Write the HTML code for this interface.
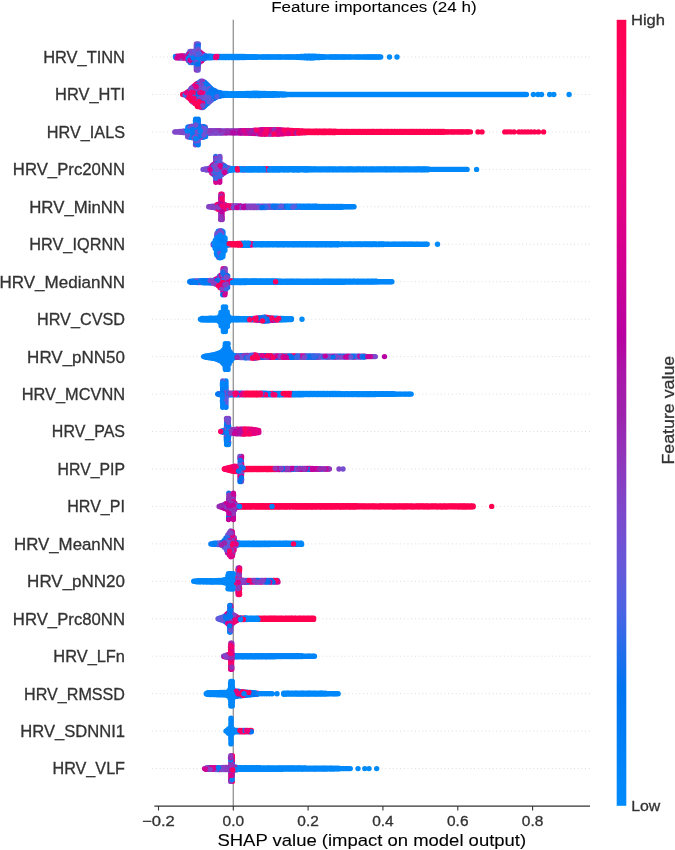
<!DOCTYPE html>
<html><head><meta charset="utf-8"><style>html,body{margin:0;padding:0;background:#fff;}svg{display:block;will-change:transform;}</style></head>
<body><svg width="675" height="850" viewBox="0 0 675 850">
<rect width="675" height="850" fill="#fff"/>
<line x1="152.3" y1="57.0" x2="591" y2="57.0" stroke="#d0d0d0" stroke-width="0.9" stroke-dasharray="0.8 2.9"/>
<line x1="152.3" y1="94.5" x2="591" y2="94.5" stroke="#d0d0d0" stroke-width="0.9" stroke-dasharray="0.8 2.9"/>
<line x1="152.3" y1="131.9" x2="591" y2="131.9" stroke="#d0d0d0" stroke-width="0.9" stroke-dasharray="0.8 2.9"/>
<line x1="152.3" y1="169.4" x2="591" y2="169.4" stroke="#d0d0d0" stroke-width="0.9" stroke-dasharray="0.8 2.9"/>
<line x1="152.3" y1="206.8" x2="591" y2="206.8" stroke="#d0d0d0" stroke-width="0.9" stroke-dasharray="0.8 2.9"/>
<line x1="152.3" y1="244.2" x2="591" y2="244.2" stroke="#d0d0d0" stroke-width="0.9" stroke-dasharray="0.8 2.9"/>
<line x1="152.3" y1="281.7" x2="591" y2="281.7" stroke="#d0d0d0" stroke-width="0.9" stroke-dasharray="0.8 2.9"/>
<line x1="152.3" y1="319.2" x2="591" y2="319.2" stroke="#d0d0d0" stroke-width="0.9" stroke-dasharray="0.8 2.9"/>
<line x1="152.3" y1="356.6" x2="591" y2="356.6" stroke="#d0d0d0" stroke-width="0.9" stroke-dasharray="0.8 2.9"/>
<line x1="152.3" y1="394.1" x2="591" y2="394.1" stroke="#d0d0d0" stroke-width="0.9" stroke-dasharray="0.8 2.9"/>
<line x1="152.3" y1="431.5" x2="591" y2="431.5" stroke="#d0d0d0" stroke-width="0.9" stroke-dasharray="0.8 2.9"/>
<line x1="152.3" y1="469.0" x2="591" y2="469.0" stroke="#d0d0d0" stroke-width="0.9" stroke-dasharray="0.8 2.9"/>
<line x1="152.3" y1="506.4" x2="591" y2="506.4" stroke="#d0d0d0" stroke-width="0.9" stroke-dasharray="0.8 2.9"/>
<line x1="152.3" y1="543.9" x2="591" y2="543.9" stroke="#d0d0d0" stroke-width="0.9" stroke-dasharray="0.8 2.9"/>
<line x1="152.3" y1="581.3" x2="591" y2="581.3" stroke="#d0d0d0" stroke-width="0.9" stroke-dasharray="0.8 2.9"/>
<line x1="152.3" y1="618.8" x2="591" y2="618.8" stroke="#d0d0d0" stroke-width="0.9" stroke-dasharray="0.8 2.9"/>
<line x1="152.3" y1="656.2" x2="591" y2="656.2" stroke="#d0d0d0" stroke-width="0.9" stroke-dasharray="0.8 2.9"/>
<line x1="152.3" y1="693.7" x2="591" y2="693.7" stroke="#d0d0d0" stroke-width="0.9" stroke-dasharray="0.8 2.9"/>
<line x1="152.3" y1="731.1" x2="591" y2="731.1" stroke="#d0d0d0" stroke-width="0.9" stroke-dasharray="0.8 2.9"/>
<line x1="152.3" y1="768.6" x2="591" y2="768.6" stroke="#d0d0d0" stroke-width="0.9" stroke-dasharray="0.8 2.9"/>
<line x1="233.3" y1="19.7" x2="233.3" y2="806" stroke="#999" stroke-width="1.4"/>
<g fill="none" stroke-width="5.4" stroke-linecap="round"><path d="M178.7 57.9h0M194.5 62.6h0M196.5 94.5h0M198.3 87.4h0M218.3 130.8h0M237.5 130.9h0M246.3 206.1h0M220.6 207.8h0M271.9 355.9h0M236.6 429.3h0M279.8 468.4h0M229.4 549.2h0M255.5 580.5h0M239.4 574.1h0M233.1 767.1h0" stroke="#883fc2"/><path d="M180.7 56.0h0M274.2 131.9h0M210.3 167.6h0M269.1 357.4h0M241.5 433.9h0" stroke="#d40090"/><path d="M182.3 58.0h0M214.8 130.8h0M222.7 132.9h0M256.8 133.6h0M264.5 129.6h0M220.9 205.8h0M230.8 777.4h0" stroke="#9430b6"/><path d="M183.8 58.0h0M212.0 168.4h0M215.8 168.4h0M219.4 283.6h0M289.3 469.5h0M312.1 468.5h0M274.3 580.5h0" stroke="#cd0095"/><path d="M186.9 55.9h0M198.3 66.1h0M283.0 469.5h0" stroke="#962db3"/><path d="M188.6 53.6h0M191.0 135.2h0M192.3 137.7h0M199.1 128.0h0M203.7 132.7h0M204.3 169.4h0M251.3 206.1h0M218.2 240.2h0M309.1 356.0h0M356.6 357.0h0M358.4 357.0h0M241.4 481.6h0M230.4 632.0h0" stroke="#764ed0"/><path d="M191.6 55.6h0M213.8 96.5h0M217.3 94.5h0" stroke="#6459da"/><path d="M193.1 56.0h0M201.0 54.7h0M220.1 133.0h0M246.5 207.5h0M262.4 206.1h0M355.2 357.0h0M374.1 356.6h0M219.1 394.5h0M240.0 468.0h0" stroke="#7350d2"/><path d="M194.6 60.5h0M196.4 43.9h0M195.5 144.7h0M220.1 163.6h0M249.8 206.1h0M267.0 207.4h0M226.3 436.5h0M208.7 769.4h0" stroke="#794cce"/><path d="M196.2 55.8h0M254.9 130.3h0M218.1 165.7h0M218.3 167.5h0M223.1 268.7h0M273.7 320.2h0M254.5 358.2h0M260.9 355.8h0M248.9 582.1h0M269.8 580.5h0M229.9 607.5h0M230.8 607.5h0" stroke="#d9008c"/><path d="M196.6 57.9h0M199.9 96.4h0M202.8 107.6h0M210.7 171.1h0M215.7 180.3h0M214.6 206.1h0M215.7 205.7h0M244.8 207.5h0M247.7 207.5h0M254.4 206.1h0M222.9 278.7h0M274.0 355.9h0M297.6 357.2h0" stroke="#8542c5"/><path d="M198.0 60.4h0M204.6 82.3h0M204.7 96.5h0M206.3 98.8h0M209.5 91.0h0M192.7 128.0h0M195.5 128.2h0M195.7 128.9h0M195.8 142.7h0M270.6 207.4h0M273.6 207.4h0M192.4 282.3h0M197.4 282.5h0M218.7 393.6h0M230.0 394.8h0M228.6 430.0h0M240.3 462.2h0M229.9 619.8h0" stroke="#007bf4"/><path d="M199.3 58.1h0M202.5 59.8h0" stroke="#5b5ddd"/><path d="M201.0 57.0h0M213.7 130.7h0M263.9 206.1h0M278.5 207.4h0M218.6 233.2h0M320.1 356.1h0M334.6 356.1h0M223.7 394.9h0M241.7 471.9h0M227.6 543.9h0M227.9 548.3h0M232.1 624.1h0" stroke="#6c54d6"/><path d="M207.9 56.3h0M209.1 56.3h0M211.0 57.7h0M212.3 56.4h0M204.2 92.7h0M221.3 239.4h0M193.8 281.0h0M259.3 320.4h0M261.1 320.6h0M225.9 403.1h0M228.5 432.5h0M228.7 442.5h0M210.9 543.9h0M214.9 544.4h0M246.4 731.8h0" stroke="#007ff7"/><path d="M217.1 57.5h0M199.9 100.8h0M201.0 98.6h0M250.5 245.0h0M251.7 243.8h0M237.6 429.2h0M252.1 431.5h0" stroke="#e9007c"/><path d="M218.8 56.5h0M218.5 57.5h0M220.2 56.5h0M223.5 57.5h0M225.1 56.5h0M241.2 57.5h0M244.7 57.5h0M247.4 57.4h0M252.5 56.6h0M255.5 56.6h0M255.7 57.4h0M264.7 57.0h0M267.2 57.0h0M270.9 57.0h0M273.4 57.0h0M274.7 57.0h0M277.2 57.0h0M280.9 57.0h0M285.9 57.0h0M293.4 57.0h0M294.7 57.0h0M299.0 56.6h0M300.7 56.5h0M303.6 56.4h0M304.9 57.7h0M308.3 57.9h0M309.8 56.1h0M310.3 57.9h0M311.4 56.1h0M313.1 57.8h0M316.1 56.4h0M317.8 57.6h0M319.6 57.5h0M321.1 57.4h0M324.4 57.0h0M330.7 57.0h0M334.4 57.0h0M339.4 57.0h0M340.7 57.0h0M345.7 57.0h0M350.7 57.0h0M351.9 57.0h0M353.2 57.0h0M354.4 57.0h0M355.7 57.0h0M359.4 57.0h0M366.9 57.0h0M369.4 57.0h0M373.2 57.0h0M224.9 93.5h0M225.4 95.4h0M227.1 95.4h0M231.8 93.7h0M234.7 95.2h0M242.8 93.6h0M244.7 95.3h0M251.0 93.4h0M250.7 95.5h0M252.4 93.4h0M257.4 93.3h0M257.2 95.6h0M259.1 95.5h0M268.6 93.6h0M273.4 95.2h0M276.2 93.8h0M280.9 94.0h0M284.3 94.9h0M296.4 94.5h0M300.1 94.5h0M301.4 94.5h0M302.6 94.5h0M312.6 94.5h0M316.4 94.5h0M317.6 94.5h0M322.6 94.5h0M327.6 94.5h0M328.9 94.5h0M330.1 94.5h0M337.6 94.5h0M350.1 94.5h0M358.9 94.5h0M360.1 94.5h0M361.4 94.5h0M365.1 94.5h0M367.6 94.5h0M370.1 94.5h0M371.4 94.5h0M373.9 94.5h0M376.4 94.5h0M380.1 94.5h0M383.9 94.5h0M398.9 94.5h0M402.6 94.5h0M407.6 94.5h0M416.4 94.5h0M417.6 94.5h0M427.6 94.5h0M430.1 94.5h0M432.6 94.5h0M436.4 94.5h0M438.9 94.5h0M442.6 94.5h0M446.4 94.5h0M448.9 94.5h0M450.1 94.5h0M467.6 94.5h0M476.4 94.5h0M478.9 94.5h0M485.1 94.5h0M488.9 94.5h0M493.9 94.5h0M496.4 94.5h0M497.6 94.5h0M507.6 94.5h0M515.1 94.5h0M526.4 94.5h0M229.7 168.3h0M232.9 169.9h0M234.5 168.8h0M234.1 169.9h0M236.2 169.9h0M239.3 168.8h0M240.9 168.8h0M248.6 169.9h0M255.0 168.8h0M257.1 168.8h0M258.4 168.8h0M259.7 169.9h0M264.5 168.8h0M268.1 169.9h0M273.0 169.9h0M274.4 168.8h0M278.9 168.8h0M280.5 169.9h0M282.1 168.8h0M282.4 169.9h0M290.7 168.8h0M292.0 168.8h0M296.9 168.8h0M298.2 169.9h0M306.3 169.9h0M311.4 168.9h0M320.6 169.8h0M322.7 168.9h0M323.9 168.9h0M324.1 169.8h0M327.5 168.9h0M330.6 168.9h0M330.1 169.8h0M341.5 168.9h0M343.1 169.8h0M348.0 168.9h0M349.3 169.8h0M354.4 169.8h0M360.6 168.9h0M362.3 168.9h0M365.9 168.9h0M365.5 169.8h0M366.9 168.9h0M370.5 169.8h0M372.1 168.9h0M373.5 169.8h0M375.5 169.8h0M376.5 169.8h0M378.7 169.8h0M379.9 168.9h0M379.7 169.8h0M386.1 168.9h0M391.0 169.7h0M395.9 169.7h0M405.5 169.0h0M407.3 169.7h0M410.4 169.0h0M411.9 169.0h0M415.5 169.7h0M421.8 169.0h0M421.8 169.7h0M426.2 169.0h0M430.9 169.4h0M434.6 169.4h0M435.9 169.4h0M443.4 169.4h0M449.6 169.4h0M450.9 169.4h0M452.1 169.4h0M460.9 169.4h0M213.3 243.6h0M218.4 246.5h0M223.0 231.9h0M242.1 245.2h0M243.7 245.2h0M253.4 244.7h0M255.2 243.8h0M258.4 244.7h0M260.2 244.7h0M262.8 244.7h0M276.1 243.8h0M276.2 244.7h0M278.9 243.8h0M283.8 243.8h0M283.8 244.7h0M286.8 243.8h0M290.6 243.8h0M292.1 243.8h0M292.2 244.7h0M295.0 243.8h0M296.9 244.7h0M299.9 243.8h0M305.0 243.8h0M304.7 244.7h0M307.8 243.8h0M319.0 244.7h0M320.5 244.7h0M325.2 243.8h0M328.9 244.7h0M332.0 243.8h0M333.4 244.7h0M334.9 244.7h0M337.0 243.8h0M336.8 244.7h0M339.6 243.9h0M341.8 243.9h0M346.5 244.6h0M349.6 243.9h0M351.4 244.6h0M352.6 244.6h0M357.3 244.6h0M359.3 243.9h0M360.5 244.6h0M362.1 244.6h0M365.6 244.6h0M367.1 243.9h0M366.9 244.6h0M373.5 243.9h0M380.0 243.9h0M381.5 244.6h0M383.2 243.9h0M397.2 244.2h0M398.5 244.2h0M407.2 244.2h0M408.5 244.2h0M411.0 244.2h0M413.5 244.2h0M414.7 244.2h0M416.0 244.2h0M232.9 280.9h0M234.0 282.5h0M237.5 282.5h0M244.0 282.5h0M245.3 280.9h0M245.5 282.5h0M248.8 282.4h0M250.3 282.4h0M253.5 281.0h0M257.8 281.0h0M258.5 282.4h0M262.7 282.4h0M264.3 281.0h0M264.5 282.4h0M265.8 282.4h0M269.4 281.0h0M270.7 282.4h0M279.2 281.1h0M281.8 281.1h0M283.4 281.1h0M285.7 282.3h0M288.6 281.1h0M290.4 282.3h0M291.6 281.1h0M293.5 282.3h0M296.6 281.1h0M299.5 281.1h0M302.9 282.3h0M311.2 281.1h0M312.4 281.2h0M315.6 282.2h0M317.5 281.2h0M326.7 281.2h0M329.8 281.2h0M330.2 282.2h0M331.5 282.2h0M333.0 281.2h0M333.5 282.2h0M334.9 282.2h0M341.3 282.2h0M345.9 281.3h0M349.3 282.1h0M350.7 281.3h0M352.8 281.3h0M365.2 282.1h0M368.8 282.1h0M371.8 281.3h0M378.2 281.7h0M380.7 281.7h0M389.4 281.7h0M201.7 319.9h0M206.9 319.9h0M211.2 318.3h0M213.1 320.0h0M214.3 320.0h0M217.9 320.2h0M221.3 323.8h0M222.3 313.7h0M222.5 316.2h0M222.7 317.9h0M223.8 315.8h0M224.0 318.3h0M226.1 318.3h0M225.7 322.0h0M225.8 324.2h0M226.0 326.5h0M227.0 315.8h0M227.7 320.0h0M230.7 318.5h0M237.0 319.8h0M242.1 318.6h0M241.9 319.7h0M288.4 318.7h0M291.3 319.5h0M223.4 315.1h0M223.5 317.1h0M225.7 319.2h0M223.3 321.2h0M225.5 321.2h0M223.4 323.3h0M292.4 393.4h0M292.6 394.7h0M295.8 393.4h0M298.9 393.4h0M299.1 394.7h0M303.5 393.5h0M310.0 393.5h0M311.5 393.5h0M313.3 393.5h0M318.0 394.6h0M320.0 393.5h0M321.2 394.6h0M329.6 393.5h0M331.2 393.5h0M334.2 393.5h0M345.0 394.5h0M347.2 393.6h0M348.6 394.5h0M354.7 393.6h0M364.3 394.5h0M367.9 393.6h0M382.3 393.7h0M383.7 393.7h0M390.5 394.4h0M391.7 393.7h0M391.7 394.4h0M395.0 394.1h0M401.2 394.1h0M402.5 394.1h0M403.7 394.1h0M406.2 394.1h0M407.5 394.1h0M222.5 397.1h0M240.7 544.5h0M245.2 544.5h0M247.2 543.2h0M248.6 543.2h0M256.9 544.5h0M257.9 544.5h0M260.1 544.5h0M271.1 543.3h0M272.9 543.3h0M280.8 543.3h0M280.9 544.4h0M282.5 543.3h0M282.5 544.4h0M290.0 543.3h0M291.6 543.3h0M293.7 544.4h0M296.4 543.3h0M196.2 580.9h0M196.5 581.7h0M201.3 580.7h0M212.0 580.6h0M213.9 580.6h0M215.6 580.6h0M218.5 580.5h0M220.2 580.5h0M220.1 582.1h0M223.3 580.1h0M226.3 583.1h0M228.3 577.9h0M228.2 580.1h0M229.8 582.4h0M229.7 584.8h0M233.2 575.6h0M233.2 577.8h0M233.0 582.5h0M232.7 584.7h0M233.3 586.8h0M233.3 588.9h0M234.9 580.0h0M246.6 619.5h0M247.9 619.4h0M252.8 618.1h0M252.9 619.4h0M254.8 619.4h0M257.8 618.1h0M206.2 693.7h0M207.3 692.9h0M209.4 694.5h0M213.9 692.7h0M221.8 692.5h0M222.2 694.8h0M233.0 689.2h0M233.2 693.7h0M234.5 696.4h0M288.1 693.2h0M288.5 694.1h0M289.8 694.1h0M298.4 694.1h0M299.9 693.2h0M301.1 694.1h0M309.4 693.2h0M310.8 694.1h0M314.1 693.3h0M315.3 694.0h0M323.8 694.0h0M232.1 683.4h0M230.7 689.6h0M230.6 691.6h0M232.5 691.6h0M232.2 699.8h0M228.5 733.2h0M233.8 732.2h0M235.6 731.7h0M236.5 731.7h0M231.0 720.3h0M230.9 730.1h0M231.1 732.1h0M230.9 736.0h0M242.7 769.3h0M252.0 769.3h0M253.7 767.8h0M255.8 767.8h0M256.9 767.8h0M264.9 769.2h0M269.9 767.9h0M271.4 767.9h0M271.6 769.2h0M272.9 769.2h0M276.4 769.2h0M279.2 769.2h0M282.7 767.9h0M284.2 768.0h0M285.7 769.1h0M289.1 769.1h0M292.1 769.1h0M293.6 768.0h0M298.5 768.0h0M305.0 768.0h0M308.2 769.0h0M310.2 769.0h0M311.2 769.0h0M313.2 769.0h0M314.7 768.1h0M315.9 769.0h0M318.0 768.1h0M319.4 768.1h0M322.9 768.1h0M327.3 768.1h0M330.9 768.2h0M335.7 768.9h0M336.8 768.9h0M342.8 768.6h0M347.8 768.6h0M350.3 768.6h0" stroke="#0088fa"/><path d="M196.5 56.0h0M198.1 58.0h0M227.5 616.3h0" stroke="#605bdc"/><path d="M198.3 56.0h0M207.8 85.3h0M212.3 97.4h0M205.3 127.2h0M222.9 130.9h0M241.5 462.2h0M224.1 618.8h0M225.6 615.5h0" stroke="#6f52d4"/><path d="M183.9 94.5h0M194.8 98.7h0M272.4 131.9h0M228.0 280.6h0M269.0 320.7h0M251.7 357.9h0M242.7 429.1h0M226.5 767.5h0" stroke="#dd0088"/><path d="M186.9 96.2h0M222.1 207.8h0M225.2 286.7h0M294.4 357.3h0M212.2 767.7h0M225.2 769.6h0M229.9 767.4h0" stroke="#8d39be"/><path d="M188.3 97.5h0M286.8 131.9h0M266.7 169.9h0M273.3 580.5h0M239.3 590.5h0M241.7 619.5h0" stroke="#fe005c"/><path d="M191.6 92.1h0M215.7 156.5h0M257.5 207.5h0M267.3 206.2h0M252.7 318.5h0" stroke="#306ae9"/><path d="M191.6 94.5h0M199.8 90.5h0M223.2 169.4h0M276.5 206.2h0M275.5 320.1h0M284.8 355.9h0M228.8 493.3h0" stroke="#186deb"/><path d="M195.0 88.1h0M181.4 131.4h0M183.3 131.3h0M189.3 134.8h0M219.8 247.2h0M224.4 286.0h0M340.8 356.1h0M238.1 578.2h0M238.3 586.4h0" stroke="#8047c9"/><path d="M194.8 94.5h0M224.6 281.7h0M229.7 280.8h0M264.3 355.8h0M275.5 357.3h0" stroke="#0071ee"/><path d="M196.7 104.6h0M229.0 470.2h0M232.0 469.0h0" stroke="#eb007a"/><path d="M197.7 83.2h0M202.6 100.8h0M218.6 169.4h0M270.3 320.4h0M283.0 355.9h0M289.6 468.4h0" stroke="#266cea"/><path d="M198.3 99.8h0M239.3 572.1h0" stroke="#e7007e"/><path d="M197.9 105.7h0M201.4 107.6h0M202.6 83.7h0M202.8 98.7h0M219.8 166.4h0M239.8 467.1h0M234.3 537.6h0M218.9 769.5h0" stroke="#8244c7"/><path d="M199.8 82.1h0M216.6 167.3h0M223.1 167.5h0M224.3 277.2h0M224.9 280.7h0M225.9 539.9h0" stroke="#4066e6"/><path d="M201.0 90.3h0M243.1 433.9h0M255.3 431.5h0" stroke="#e50080"/><path d="M202.8 90.0h0M284.5 207.4h0M225.0 290.7h0M257.6 355.4h0M329.7 357.1h0M355.2 356.2h0M256.7 582.1h0" stroke="#006fed"/><path d="M204.3 104.3h0M205.7 105.1h0M207.9 89.3h0M194.3 129.7h0M297.4 207.3h0M225.9 385.0h0M230.0 429.9h0M226.3 428.5h0M230.5 617.7h0M240.9 691.6h0M255.5 694.3h0" stroke="#007ef6"/><path d="M205.7 96.7h0M207.5 87.4h0M212.4 91.5h0M189.5 126.7h0M268.7 207.4h0M224.7 244.2h0M321.9 356.1h0M324.6 357.1h0M223.6 393.2h0M225.7 619.7h0M228.8 616.7h0" stroke="#6857d8"/><path d="M206.1 102.8h0M212.3 93.2h0M198.8 137.7h0M243.2 394.8h0" stroke="#0076f1"/><path d="M209.4 95.6h0M187.9 127.1h0M198.3 123.0h0M198.1 125.0h0M195.4 132.9h0M281.5 207.4h0M203.6 282.7h0M226.8 393.2h0M266.9 393.4h0M244.1 691.9h0" stroke="#0079f3"/><path d="M210.7 88.2h0M272.2 206.2h0M235.3 357.4h0" stroke="#0074f0"/><path d="M211.1 92.5h0M215.3 93.5h0M200.5 133.2h0M203.6 126.8h0M280.3 206.2h0M279.8 207.4h0M233.6 393.3h0M225.1 430.3h0M257.1 694.2h0" stroke="#0077f2"/><path d="M221.8 93.3h0M223.8 432.3h0M228.7 426.5h0M219.5 618.2h0M230.4 611.6h0M229.8 628.0h0M209.2 767.7h0M228.1 769.6h0" stroke="#007cf5"/><path d="M187.7 136.7h0M197.6 129.7h0M219.8 168.4h0M235.0 207.6h0M241.3 206.1h0M243.4 206.1h0M264.1 207.5h0M216.7 235.8h0M223.3 248.2h0M267.4 357.4h0M275.6 355.9h0M296.0 356.0h0M226.5 418.5h0M241.6 469.9h0M240.0 479.6h0M239.3 576.2h0" stroke="#7d49cc"/><path d="M192.5 126.1h0M286.6 207.4h0M287.8 206.2h0M215.2 248.4h0M216.6 251.0h0M218.3 237.7h0M218.0 248.4h0M220.0 245.2h0M198.7 282.5h0M247.8 319.7h0M263.5 394.8h0M226.6 444.5h0M230.7 609.5h0M244.1 695.4h0M245.8 695.2h0M253.8 692.8h0" stroke="#0081f7"/><path d="M216.9 130.8h0M225.2 278.7h0M234.8 505.2h0M229.3 654.7h0M233.2 657.5h0M228.3 767.5h0M232.2 767.6h0M230.8 771.5h0" stroke="#8f36bb"/><path d="M224.9 132.9h0M316.8 469.3h0M323.2 469.0h0" stroke="#9829b1"/><path d="M226.5 131.0h0M218.3 163.6h0M220.9 200.0h0M216.7 282.9h0M302.3 469.4h0M233.6 507.4h0M215.5 767.6h0M232.2 777.4h0" stroke="#8a3cc0"/><path d="M226.1 132.8h0M229.5 132.8h0" stroke="#aa17a7"/><path d="M227.5 132.8h0M239.6 433.8h0" stroke="#a31daa"/><path d="M248.4 133.1h0M238.2 207.6h0M220.8 211.7h0" stroke="#b604a2"/><path d="M252.1 133.2h0M272.6 134.1h0M224.8 168.4h0M226.1 169.4h0M226.5 286.5h0M231.0 282.5h0M239.9 429.2h0M238.0 592.6h0" stroke="#d6008e"/><path d="M258.3 130.1h0M230.3 206.0h0M230.1 207.6h0M239.7 393.3h0" stroke="#f80067"/><path d="M266.2 131.9h0M285.2 130.2h0M301.4 131.0h0M249.4 318.6h0M262.2 319.2h0M272.0 393.4h0M250.7 431.5h0M230.6 655.2h0" stroke="#fd005f"/><path d="M268.1 134.1h0M269.1 131.9h0M285.5 131.9h0M219.7 169.4h0M219.8 171.3h0M221.0 286.5h0M222.7 284.0h0M252.6 319.8h0M240.9 431.5h0M257.3 432.8h0M241.6 466.0h0M232.5 539.9h0M238.3 576.2h0M238.2 594.6h0M230.6 669.3h0" stroke="#db008a"/><path d="M270.7 131.9h0M272.5 129.7h0M278.7 129.8h0M222.7 207.8h0M225.3 206.8h0" stroke="#f6006c"/><path d="M277.5 129.8h0M222.1 209.7h0" stroke="#f4006e"/><path d="M277.7 134.0h0M228.7 206.0h0M239.5 394.8h0M235.3 615.9h0" stroke="#f7006a"/><path d="M280.3 133.9h0M213.5 280.4h0M224.6 279.1h0M254.9 355.0h0M231.3 505.4h0M232.4 761.7h0" stroke="#d10091"/><path d="M283.6 133.7h0M286.8 355.9h0M244.1 434.0h0M240.2 469.0h0M243.2 470.0h0M229.5 534.6h0M239.5 582.3h0M230.7 667.3h0M231.7 767.3h0M232.3 781.4h0" stroke="#fc0061"/><path d="M287.3 130.3h0M258.7 430.5h0M239.6 588.5h0M234.0 620.0h0" stroke="#df0086"/><path d="M292.0 130.5h0M225.1 272.7h0" stroke="#ff0058"/><path d="M294.9 130.7h0M296.7 130.8h0M268.7 317.6h0M240.0 731.7h0" stroke="#ff0056"/><path d="M304.7 131.1h0M245.8 433.9h0M247.5 433.9h0M234.8 466.3h0" stroke="#fb0063"/><path d="M307.9 131.3h0M312.5 132.5h0M320.5 132.5h0M327.1 131.3h0M326.7 132.5h0M328.7 131.3h0M330.3 132.5h0M336.5 132.4h0M338.0 132.4h0M346.2 131.4h0M349.3 132.4h0M351.3 131.4h0M352.8 131.4h0M352.5 132.4h0M359.0 132.4h0M362.2 132.4h0M371.5 132.4h0M373.3 132.4h0M381.5 132.4h0M383.0 132.4h0M384.6 132.4h0M386.3 132.4h0M389.6 132.4h0M392.3 131.5h0M395.5 131.5h0M397.1 132.3h0M406.9 132.3h0M411.9 131.5h0M413.6 131.5h0M416.7 131.5h0M418.2 131.5h0M420.0 131.5h0M421.4 132.3h0M424.4 131.5h0M429.7 131.5h0M430.7 132.3h0M432.7 131.5h0M434.4 132.3h0M435.7 132.3h0M437.6 131.5h0M438.9 131.5h0M443.8 131.5h0M445.4 131.9h0M447.9 131.9h0M454.2 131.9h0M461.7 131.9h0M466.7 131.9h0M229.3 244.8h0M231.3 244.8h0M232.7 244.8h0M234.0 244.9h0M237.8 243.5h0M240.8 243.4h0M248.0 394.8h0M249.3 393.3h0M251.0 393.3h0M257.3 393.3h0M257.0 394.8h0M258.9 393.3h0M244.5 468.4h0M246.0 469.6h0M248.0 468.4h0M248.3 469.6h0M249.4 468.4h0M250.9 468.4h0M254.3 468.4h0M259.1 468.4h0M260.8 469.6h0M263.7 469.6h0M265.5 468.4h0M270.2 469.6h0M239.9 505.8h0M247.5 507.0h0M252.1 507.0h0M254.1 507.0h0M255.2 505.8h0M255.6 507.0h0M256.9 505.8h0M256.9 507.0h0M260.6 505.8h0M260.4 507.0h0M271.6 505.8h0M274.6 505.8h0M274.6 507.0h0M279.3 507.0h0M286.1 505.8h0M286.1 507.0h0M287.4 505.8h0M292.4 505.8h0M296.9 505.8h0M297.1 507.0h0M302.0 507.0h0M324.5 507.0h0M329.3 507.0h0M330.5 505.8h0M332.2 507.0h0M337.2 505.8h0M337.2 507.0h0M339.1 507.0h0M342.2 505.8h0M343.3 507.0h0M349.8 507.0h0M353.5 507.0h0M354.8 505.8h0M362.7 505.9h0M375.7 505.9h0M375.5 506.9h0M377.0 505.9h0M377.1 506.9h0M379.1 505.9h0M385.3 506.9h0M396.2 505.9h0M399.6 505.9h0M404.3 506.9h0M409.0 505.9h0M422.1 505.9h0M423.8 506.9h0M426.9 505.9h0M434.7 505.9h0M439.9 506.9h0M442.7 506.9h0M446.0 505.9h0M446.1 506.9h0M447.6 505.9h0M452.6 506.9h0M453.8 505.9h0M454.1 506.9h0M463.8 505.9h0M466.9 505.9h0M470.0 506.9h0M471.7 505.9h0M473.1 505.9h0M264.4 618.1h0M269.3 618.1h0M272.1 618.1h0M275.0 618.1h0M278.7 618.1h0M279.9 619.4h0M281.8 619.4h0M288.5 619.4h0M292.7 618.1h0M293.0 619.4h0M294.6 618.1h0M297.8 619.4h0M301.0 619.4h0M307.4 619.4h0M312.2 619.4h0M313.7 618.1h0M313.6 619.4h0" stroke="#ff0051"/><path d="M216.8 175.2h0M219.9 158.4h0M278.4 355.9h0M231.8 651.2h0M229.6 769.7h0M232.3 757.7h0M232.2 769.5h0" stroke="#cf0093"/><path d="M220.8 205.6h0" stroke="#f30070"/><path d="M220.8 207.8h0M225.5 205.0h0M308.9 468.5h0" stroke="#bc009f"/><path d="M227.1 208.0h0M353.6 357.0h0M290.9 469.5h0M233.6 495.3h0" stroke="#c2009c"/><path d="M229.0 207.6h0" stroke="#f00074"/><path d="M265.4 206.1h0M289.8 207.4h0M255.8 358.0h0M357.2 356.2h0M321.7 469.3h0M276.1 582.1h0" stroke="#3968e7"/><path d="M274.9 206.2h0M267.3 320.9h0M240.2 355.7h0M269.0 355.8h0M344.3 357.0h0" stroke="#0073ef"/><path d="M285.0 206.2h0M291.3 206.2h0M228.7 612.5h0" stroke="#5261e1"/><path d="M286.6 206.2h0M221.3 257.6h0M222.8 252.4h0M197.4 280.9h0M206.9 280.6h0M225.9 383.0h0M226.1 391.0h0M226.2 397.1h0" stroke="#0082f8"/><path d="M289.7 206.2h0M301.0 207.3h0M304.0 207.3h0M305.8 206.3h0M307.1 206.3h0M307.4 207.3h0M308.5 207.3h0M310.1 206.3h0M315.5 206.3h0M317.0 207.3h0M323.2 206.4h0M326.1 207.2h0M329.4 207.2h0M342.1 207.2h0M347.8 206.8h0M350.3 206.8h0M219.7 240.9h0M223.2 244.2h0M203.7 356.6h0M214.8 358.6h0M219.2 360.3h0M222.5 354.8h0M223.8 361.6h0M225.4 355.3h0M227.0 359.9h0M229.0 351.5h0M228.9 355.3h0M228.9 357.5h0M228.8 362.0h0M229.1 363.9h0M230.8 358.8h0M225.3 347.7h0M225.5 355.6h0M227.7 355.6h0M225.5 357.6h0M225.3 359.6h0M225.1 361.5h0M225.2 363.5h0M227.8 363.5h0M225.2 367.4h0M279.6 394.7h0M234.5 655.6h0M234.2 656.8h0M235.9 655.6h0M236.2 656.8h0M239.2 656.8h0M242.2 655.6h0M248.5 656.7h0M257.1 655.7h0M259.8 656.7h0M261.8 655.7h0M268.3 655.7h0M267.9 656.7h0M271.4 656.7h0M272.7 655.7h0M272.9 656.7h0M287.1 655.8h0M287.2 656.6h0M295.0 655.8h0M296.9 656.6h0M308.3 656.2h0M314.5 656.2h0" stroke="#0084f9"/><path d="M296.2 206.3h0" stroke="#575fdf"/><path d="M220.9 194.1h0M230.7 651.2h0" stroke="#ee0076"/><path d="M220.9 201.9h0" stroke="#bf009d"/><path d="M218.4 235.7h0M219.9 239.0h0M223.1 239.9h0" stroke="#0085f9"/><path d="M223.4 237.9h0" stroke="#0086fa"/><path d="M220.0 287.5h0M239.6 594.6h0" stroke="#ff005a"/><path d="M261.2 317.7h0M255.7 429.9h0M229.4 536.9h0M238.1 590.5h0" stroke="#e30082"/><path d="M299.1 357.2h0" stroke="#4664e4"/><path d="M300.7 356.0h0M307.1 469.4h0M328.2 469.0h0" stroke="#c70098"/><path d="M317.2 357.2h0M363.4 356.2h0M229.7 505.2h0M233.4 497.3h0" stroke="#ca0097"/><path d="M232.9 429.6h0M234.7 429.5h0M294.3 468.5h0M305.7 469.4h0M230.5 647.1h0" stroke="#9233b9"/><path d="M236.3 433.7h0M302.5 468.5h0M231.4 507.6h0M233.6 509.4h0" stroke="#c5009a"/><path d="M237.7 433.8h0" stroke="#a71aa9"/><path d="M230.8 539.7h0" stroke="#fa0065"/><path d="M252.3 580.5h0M238.0 570.0h0M243.5 731.7h0" stroke="#ff0053"/><path d="M239.3 580.3h0" stroke="#e10084"/><path d="M231.9 653.2h0" stroke="#f10072"/><path d="M183.3 56.0h0M239.0 130.9h0M286.1 469.5h0M228.8 515.5h0M232.3 773.5h0" stroke="#962db3"/><path d="M185.1 55.9h0M282.0 130.0h0M249.8 357.8h0M278.0 468.4h0M294.3 469.4h0M303.8 469.4h0M236.1 507.7h0M228.9 495.3h0M230.7 657.2h0M230.7 665.3h0" stroke="#9233b9"/><path d="M186.6 58.1h0M199.4 102.5h0M221.7 132.9h0M232.7 131.0h0M223.4 173.5h0M215.7 158.4h0M223.7 204.3h0M218.5 277.8h0M223.0 292.7h0M233.2 499.3h0M250.4 580.5h0M266.3 580.5h0M230.9 767.6h0" stroke="#8a3cc0"/><path d="M188.2 60.4h0M197.6 126.1h0M197.6 134.0h0M202.0 130.9h0M202.1 133.0h0M198.2 134.9h0M203.1 169.4h0M207.5 168.8h0M207.0 169.9h0M365.2 356.2h0M226.5 426.5h0M241.6 473.8h0" stroke="#764ed0"/><path d="M189.9 51.4h0M198.4 43.9h0M198.0 62.0h0M212.1 95.4h0M194.3 135.6h0M240.1 466.0h0" stroke="#6857d8"/><path d="M190.2 62.6h0M206.2 85.8h0M190.9 133.1h0M199.2 135.9h0M205.5 134.6h0M278.1 206.2h0M241.3 460.2h0M252.1 694.6h0M222.0 767.6h0" stroke="#0079f3"/><path d="M191.3 51.4h0M191.5 62.6h0M205.8 92.1h0M217.0 92.1h0M194.2 131.9h0M213.2 244.9h0M305.8 356.0h0M345.5 356.2h0M369.1 356.6h0M226.7 394.9h0M240.1 473.8h0M240.0 477.7h0M241.7 479.6h0M227.7 539.2h0M227.5 618.8h0M232.0 621.7h0" stroke="#6f52d4"/><path d="M191.4 58.2h0M204.7 102.3h0M214.0 98.4h0M220.7 394.7h0M263.6 393.3h0M230.6 613.6h0M238.0 691.2h0M250.8 692.5h0" stroke="#007ef6"/><path d="M191.6 60.3h0M196.5 51.4h0M245.1 357.7h0M247.8 355.4h0M241.2 470.4h0M224.3 620.9h0" stroke="#0074f0"/><path d="M193.0 53.7h0M192.9 60.6h0M196.1 92.2h0M206.8 130.6h0M213.2 133.1h0M221.3 168.5h0M238.3 206.0h0M259.1 206.1h0M260.7 206.1h0M221.6 247.6h0M348.9 357.0h0M364.9 357.0h0M238.1 469.0h0M232.5 533.7h0M223.6 656.2h0" stroke="#794cce"/><path d="M193.2 62.6h0M199.9 55.8h0M189.7 131.1h0M196.1 126.1h0M202.4 126.6h0M198.2 130.9h0M195.5 134.9h0M198.1 142.7h0M266.9 394.7h0M230.7 621.8h0M247.6 695.1h0" stroke="#0077f2"/><path d="M194.5 55.8h0M202.6 56.2h0M210.8 56.3h0M212.5 57.6h0M214.1 56.4h0M197.4 136.0h0M202.5 137.2h0M198.3 121.1h0M216.9 239.8h0M218.0 251.0h0M223.0 236.3h0M236.8 394.8h0M222.6 389.0h0M226.4 432.5h0M216.3 544.4h0M229.2 620.7h0M229.8 609.5h0M247.2 692.2h0M230.8 769.5h0" stroke="#007ff7"/><path d="M196.1 53.7h0M196.2 49.9h0M207.4 95.2h0M232.3 615.7h0" stroke="#605bdc"/><path d="M197.8 55.7h0M200.9 96.8h0M198.2 132.9h0M255.8 206.1h0M195.8 281.0h0M200.4 282.6h0M221.0 277.4h0M337.5 357.1h0M350.2 356.2h0M238.3 568.0h0M223.4 767.5h0" stroke="#7d49cc"/><path d="M199.6 51.6h0M192.9 86.9h0M197.8 103.9h0M199.5 98.6h0M213.4 164.4h0M215.8 162.4h0M209.9 206.8h0M211.0 207.2h0M212.7 207.3h0M253.1 207.5h0M219.8 277.7h0M223.0 270.7h0M289.7 357.3h0M251.9 582.1h0M265.1 582.1h0M239.4 578.2h0M207.7 767.7h0M207.1 769.4h0M213.8 769.4h0" stroke="#8542c5"/><path d="M199.8 60.0h0M192.6 135.6h0M221.5 130.9h0M215.6 160.4h0M216.4 242.3h0M300.9 357.2h0M347.2 356.2h0M358.5 356.2h0M225.3 394.9h0M230.7 615.7h0" stroke="#7350d2"/><path d="M199.3 62.4h0M223.0 276.7h0M278.8 357.3h0M233.4 515.5h0M265.2 580.5h0M230.7 605.5h0M229.7 613.6h0M204.6 768.6h0M210.7 767.7h0" stroke="#cd0095"/><path d="M201.5 61.1h0M240.4 133.0h0M263.3 129.7h0M271.2 134.1h0M282.3 131.9h0M215.6 174.3h0M258.8 432.5h0M240.0 458.3h0M229.6 542.6h0M234.0 539.8h0M233.5 622.4h0M231.8 655.2h0M234.8 770.1h0" stroke="#db008a"/><path d="M222.2 56.5h0M225.1 57.5h0M226.8 57.5h0M228.4 56.5h0M230.1 56.5h0M231.8 57.5h0M234.7 56.5h0M236.5 56.5h0M239.5 57.5h0M242.7 56.5h0M244.5 56.5h0M254.1 57.4h0M258.4 57.0h0M259.7 57.0h0M260.9 57.0h0M275.9 57.0h0M278.4 57.0h0M282.2 57.0h0M283.4 57.0h0M284.7 57.0h0M288.4 57.0h0M300.2 57.5h0M322.7 56.6h0M333.2 57.0h0M338.2 57.0h0M341.9 57.0h0M356.9 57.0h0M358.2 57.0h0M360.7 57.0h0M361.9 57.0h0M363.2 57.0h0M368.2 57.0h0M375.7 57.0h0M379.4 57.0h0M223.8 93.4h0M223.5 95.5h0M233.4 95.2h0M238.1 93.7h0M239.6 93.7h0M241.1 95.3h0M244.1 93.6h0M245.8 93.5h0M245.7 95.4h0M247.5 95.4h0M249.1 95.5h0M252.3 95.5h0M255.3 95.6h0M259.1 93.4h0M260.4 93.4h0M262.2 95.4h0M269.9 95.2h0M276.4 95.1h0M279.5 95.0h0M281.3 94.9h0M290.1 94.5h0M291.4 94.5h0M292.6 94.5h0M293.9 94.5h0M303.9 94.5h0M310.1 94.5h0M320.1 94.5h0M323.9 94.5h0M331.4 94.5h0M332.6 94.5h0M338.9 94.5h0M342.6 94.5h0M343.9 94.5h0M353.9 94.5h0M356.4 94.5h0M362.6 94.5h0M368.9 94.5h0M375.1 94.5h0M377.6 94.5h0M391.4 94.5h0M392.6 94.5h0M401.4 94.5h0M403.9 94.5h0M405.1 94.5h0M408.9 94.5h0M411.4 94.5h0M412.6 94.5h0M413.9 94.5h0M415.1 94.5h0M423.9 94.5h0M425.1 94.5h0M440.1 94.5h0M441.4 94.5h0M443.9 94.5h0M445.1 94.5h0M452.6 94.5h0M453.9 94.5h0M455.1 94.5h0M457.6 94.5h0M461.4 94.5h0M468.9 94.5h0M470.1 94.5h0M471.4 94.5h0M480.1 94.5h0M487.6 94.5h0M492.6 94.5h0M503.9 94.5h0M508.9 94.5h0M510.1 94.5h0M513.9 94.5h0M518.9 94.5h0M521.4 94.5h0M525.1 94.5h0M232.8 168.8h0M239.2 169.9h0M241.1 169.9h0M247.2 169.9h0M250.4 168.8h0M250.5 169.9h0M251.7 168.8h0M256.9 169.9h0M264.8 169.9h0M269.4 168.8h0M271.3 169.9h0M276.1 169.9h0M279.0 169.9h0M285.5 168.8h0M287.3 168.8h0M288.5 169.9h0M290.7 169.9h0M292.3 169.9h0M294.9 169.9h0M299.9 169.9h0M301.5 169.9h0M303.2 168.8h0M303.1 169.9h0M307.9 168.8h0M313.1 168.9h0M312.6 169.8h0M314.1 169.8h0M316.3 169.8h0M317.5 168.9h0M317.6 169.8h0M319.0 168.9h0M325.4 168.9h0M332.3 168.9h0M333.8 168.9h0M333.4 169.8h0M335.4 169.8h0M338.5 169.8h0M340.0 168.9h0M339.8 169.8h0M341.8 169.8h0M343.0 168.9h0M348.2 169.8h0M351.4 169.8h0M353.1 169.8h0M357.7 168.9h0M369.1 169.8h0M377.1 168.9h0M378.1 168.9h0M383.1 169.8h0M385.0 169.8h0M387.7 169.8h0M389.7 169.8h0M391.1 169.0h0M394.1 169.0h0M399.1 169.7h0M402.1 169.7h0M403.9 169.7h0M406.9 169.0h0M408.8 169.7h0M413.6 169.7h0M416.9 169.0h0M423.1 169.0h0M428.2 169.0h0M442.1 169.4h0M445.9 169.4h0M448.4 169.4h0M454.6 169.4h0M297.3 206.3h0M214.9 244.2h0M216.4 253.1h0M218.2 231.3h0M242.0 243.3h0M244.2 243.3h0M248.7 245.4h0M253.2 243.8h0M256.4 244.7h0M261.8 243.8h0M267.6 244.7h0M269.7 244.7h0M271.0 243.8h0M270.8 244.7h0M282.4 243.8h0M288.7 243.8h0M293.7 244.7h0M302.9 243.8h0M306.4 243.8h0M309.2 243.8h0M311.0 244.7h0M314.6 244.7h0M316.2 243.8h0M316.2 244.7h0M318.9 243.8h0M322.2 243.8h0M322.0 244.7h0M323.8 244.7h0M326.9 243.8h0M330.6 243.8h0M331.7 244.7h0M333.2 243.8h0M338.1 243.8h0M339.6 244.6h0M341.8 244.6h0M342.8 243.9h0M349.7 244.6h0M355.9 243.9h0M355.9 244.6h0M358.9 244.6h0M364.2 243.9h0M368.6 243.9h0M371.8 244.6h0M373.3 244.6h0M376.6 243.9h0M378.6 243.9h0M378.3 244.6h0M379.6 244.6h0M393.5 244.2h0M396.0 244.2h0M402.2 244.2h0M409.7 244.2h0M412.2 244.2h0M417.2 244.2h0M235.5 282.5h0M237.5 280.9h0M239.2 282.5h0M240.9 282.5h0M242.4 280.9h0M246.7 281.0h0M251.9 281.0h0M254.6 282.4h0M256.5 281.0h0M256.9 282.4h0M260.1 282.4h0M261.1 281.0h0M262.7 281.0h0M267.9 282.4h0M269.7 282.4h0M272.5 281.0h0M278.9 282.3h0M287.0 281.1h0M286.7 282.3h0M288.3 282.3h0M293.0 281.1h0M297.9 281.1h0M299.6 282.3h0M301.3 281.1h0M302.9 281.1h0M304.3 281.1h0M306.4 282.3h0M307.5 282.3h0M315.7 281.2h0M324.1 282.2h0M325.2 281.2h0M326.9 282.2h0M328.3 281.2h0M328.8 282.2h0M336.7 281.2h0M341.2 281.2h0M347.7 281.3h0M354.0 281.3h0M358.8 281.3h0M358.7 282.1h0M360.5 281.3h0M360.3 282.1h0M368.4 281.3h0M370.2 281.3h0M370.3 282.1h0M373.3 281.3h0M379.4 281.7h0M383.2 281.7h0M385.7 281.7h0M390.7 281.7h0M204.8 318.4h0M206.7 318.4h0M208.0 319.9h0M209.9 318.3h0M217.8 318.1h0M221.0 312.5h0M221.1 325.8h0M224.4 311.9h0M223.9 320.3h0M223.9 326.5h0M225.7 316.1h0M226.1 320.2h0M227.5 322.6h0M236.8 318.5h0M240.0 319.7h0M244.6 318.6h0M247.9 318.6h0M270.2 317.9h0M280.4 318.4h0M281.8 319.8h0M283.0 318.5h0M286.2 318.6h0M223.6 308.9h0M223.5 311.0h0M225.5 315.1h0M223.3 327.4h0M225.5 329.4h0M223.4 331.5h0M297.7 393.4h0M300.5 393.4h0M303.7 394.6h0M305.1 394.6h0M306.8 393.5h0M312.1 394.6h0M315.1 394.6h0M316.7 393.5h0M318.1 393.5h0M324.3 394.6h0M326.4 393.5h0M326.0 394.6h0M329.6 394.6h0M330.8 394.6h0M332.9 393.5h0M334.0 394.6h0M335.4 393.5h0M338.8 394.6h0M340.7 393.6h0M341.8 394.5h0M352.0 394.5h0M353.6 393.6h0M354.9 394.5h0M356.3 393.6h0M361.2 393.6h0M361.6 394.5h0M363.2 393.6h0M370.6 393.6h0M372.6 394.5h0M374.0 394.5h0M378.7 393.7h0M385.1 394.4h0M387.0 393.7h0M386.9 394.4h0M396.2 394.1h0M400.0 394.1h0M405.0 394.1h0M408.7 394.1h0M411.2 394.1h0M237.7 545.1h0M250.1 544.5h0M253.5 543.2h0M258.2 543.2h0M259.6 543.2h0M264.7 544.5h0M268.1 543.2h0M274.0 544.4h0M275.6 544.4h0M277.5 543.3h0M277.1 544.4h0M284.0 543.3h0M283.7 544.4h0M286.7 543.3h0M301.3 543.3h0M301.6 544.4h0M198.1 581.8h0M202.4 580.7h0M207.1 580.7h0M209.1 581.9h0M212.4 582.0h0M217.0 580.6h0M222.1 580.5h0M222.1 582.1h0M224.7 579.8h0M226.4 579.5h0M226.5 581.3h0M230.0 573.7h0M230.1 578.0h0M231.2 573.7h0M231.2 577.8h0M231.4 584.7h0M231.3 588.9h0M248.4 618.1h0M249.8 618.1h0M249.6 619.4h0M254.6 618.1h0M256.4 619.4h0M207.7 694.4h0M212.3 694.6h0M218.5 692.6h0M218.9 694.7h0M223.6 694.8h0M226.5 694.9h0M228.5 691.5h0M227.9 695.8h0M229.9 697.9h0M233.2 691.6h0M233.1 698.1h0M234.5 690.9h0M234.6 692.5h0M285.5 693.2h0M286.7 694.1h0M289.7 693.2h0M293.3 693.2h0M295.2 693.2h0M303.0 693.2h0M315.6 693.3h0M317.2 693.3h0M317.1 694.0h0M320.8 693.3h0M321.8 694.0h0M323.6 693.3h0M325.5 693.3h0M326.9 693.7h0M333.1 693.7h0M336.9 693.7h0M338.1 693.7h0M232.3 681.4h0M230.6 685.5h0M232.3 685.5h0M230.6 699.8h0M227.1 730.4h0M228.6 729.0h0M232.2 733.4h0M233.6 730.0h0M238.2 730.5h0M231.0 724.2h0M230.9 734.1h0M230.9 738.0h0M236.0 767.3h0M239.2 769.3h0M241.1 769.3h0M242.4 767.8h0M244.4 767.8h0M245.6 767.8h0M245.9 769.3h0M247.3 769.3h0M250.8 769.3h0M255.3 769.3h0M260.4 769.3h0M263.2 769.2h0M266.4 769.2h0M268.5 767.9h0M268.2 769.2h0M269.7 769.2h0M273.1 767.9h0M274.7 767.9h0M275.9 767.9h0M277.7 769.2h0M279.8 767.9h0M281.0 769.2h0M282.8 769.2h0M283.9 769.1h0M287.2 769.1h0M289.0 768.0h0M290.6 769.1h0M292.3 768.0h0M295.6 768.0h0M295.1 769.1h0M296.8 768.0h0M297.4 769.1h0M300.0 768.0h0M303.1 769.1h0M306.4 768.1h0M308.3 768.1h0M324.0 768.1h0M324.1 769.0h0M325.6 769.0h0M329.1 768.2h0M330.4 768.9h0M341.5 768.6h0M345.3 768.6h0" stroke="#0088fa"/><path d="M185.1 93.8h0M221.4 163.9h0M215.6 176.3h0M339.3 357.1h0M230.8 537.3h0M277.5 580.5h0M238.1 574.1h0M223.7 769.6h0" stroke="#8244c7"/><path d="M187.1 94.5h0M215.1 279.7h0M227.7 276.0h0M256.2 320.1h0M300.4 468.5h0M226.0 537.9h0" stroke="#186deb"/><path d="M189.7 92.4h0M219.8 279.6h0M353.8 356.2h0M296.0 468.5h0" stroke="#3968e7"/><path d="M189.7 94.5h0M200.9 81.3h0M263.9 357.4h0M307.1 356.0h0" stroke="#4664e4"/><path d="M193.0 91.3h0M201.4 105.1h0M212.3 170.6h0M221.9 170.6h0M225.1 274.7h0M241.7 357.5h0M249.6 355.4h0M315.0 468.6h0M321.2 468.6h0M231.1 543.9h0" stroke="#8d39be"/><path d="M194.6 85.6h0M294.9 133.1h0M257.6 318.0h0M257.7 320.3h0M257.1 430.2h0M231.3 546.2h0M232.8 546.1h0M242.3 693.7h0" stroke="#e30082"/><path d="M194.6 100.9h0M252.4 433.5h0" stroke="#df0086"/><path d="M196.6 86.1h0M199.4 94.5h0M213.5 174.3h0M223.5 165.2h0M218.9 204.1h0M221.1 204.0h0M240.2 207.6h0M225.8 279.4h0M229.4 282.6h0M216.8 767.6h0M220.3 767.6h0M226.3 769.6h0" stroke="#883fc2"/><path d="M198.1 97.5h0M174.8 131.9h0M177.3 131.9h0M183.2 132.5h0M184.4 131.2h0M184.7 132.6h0M198.3 138.8h0M215.4 169.4h0M221.8 174.8h0M299.1 356.0h0M309.2 357.2h0M318.3 357.2h0M225.3 432.7h0M228.6 418.5h0M228.3 440.5h0M258.3 580.5h0" stroke="#8047c9"/><path d="M200.9 92.2h0M219.7 275.9h0M312.2 356.0h0" stroke="#4066e6"/><path d="M201.5 103.4h0M223.3 281.7h0M272.2 357.3h0M361.6 357.0h0M292.9 469.4h0" stroke="#266cea"/><path d="M204.3 90.3h0M206.2 83.8h0M212.5 99.2h0M189.4 133.2h0M235.6 355.8h0M220.7 619.7h0" stroke="#0076f1"/><path d="M207.3 93.2h0M207.5 99.2h0M272.0 207.4h0M226.0 389.0h0" stroke="#6459da"/><path d="M210.7 100.7h0M276.7 207.4h0" stroke="#575fdf"/><path d="M215.9 95.6h0M195.8 137.7h0M199.3 133.7h0M203.7 137.0h0M205.4 132.8h0M198.2 119.1h0M195.5 130.9h0M242.1 355.7h0M223.6 430.7h0M226.5 430.1h0M226.4 440.5h0M225.9 622.0h0M239.4 695.9h0M248.9 694.9h0M232.2 763.6h0" stroke="#007bf4"/><path d="M219.0 92.5h0M220.4 94.5h0M220.1 96.0h0M186.2 131.1h0M241.1 393.3h0" stroke="#007cf5"/><path d="M195.9 134.0h0M200.3 126.3h0M260.8 207.5h0M221.5 253.5h0M244.6 355.5h0M313.8 357.2h0M320.2 357.1h0" stroke="#6c54d6"/><path d="M215.3 133.0h0M283.8 131.9h0M230.1 507.5h0" stroke="#9430b6"/><path d="M233.9 130.9h0M234.7 431.5h0M274.9 469.5h0M230.1 503.1h0" stroke="#9829b1"/><path d="M235.9 130.9h0" stroke="#a01fab"/><path d="M237.1 132.9h0M220.7 209.7h0M223.8 504.9h0M230.8 761.7h0" stroke="#8f36bb"/><path d="M244.0 133.0h0M276.1 134.0h0M216.4 278.9h0M220.0 769.5h0" stroke="#d40090"/><path d="M253.3 130.5h0M256.4 131.9h0M280.7 131.9h0" stroke="#d6008e"/><path d="M261.6 134.0h0M259.4 357.5h0M269.9 393.4h0M249.4 433.8h0M232.2 466.9h0M233.8 469.0h0M239.7 580.2h0M231.7 657.2h0" stroke="#fc0061"/><path d="M263.3 131.9h0M293.2 355.9h0M227.0 469.8h0M236.8 469.0h0M231.3 535.2h0M250.4 582.1h0M257.2 693.1h0" stroke="#fb0063"/><path d="M271.3 129.7h0" stroke="#f30070"/><path d="M282.0 133.8h0M225.1 292.7h0M272.1 320.3h0M284.7 357.3h0M230.8 552.3h0M253.7 582.1h0M259.9 582.1h0M231.6 769.8h0" stroke="#d9008c"/><path d="M285.4 133.6h0M239.6 568.0h0" stroke="#e10084"/><path d="M287.3 133.5h0M225.0 276.7h0M270.5 355.8h0M235.0 470.0h0M238.3 584.4h0" stroke="#ff0058"/><path d="M290.3 130.4h0M293.5 130.6h0M299.6 130.9h0M294.7 355.9h0M247.7 429.1h0M227.2 468.1h0M236.7 466.4h0M233.9 545.9h0M235.2 619.6h0M249.9 730.4h0" stroke="#fd005f"/><path d="M298.1 130.8h0M230.6 649.1h0" stroke="#ff0053"/><path d="M304.9 132.7h0" stroke="#9a25ae"/><path d="M306.3 132.6h0M312.9 131.3h0M314.3 131.3h0M315.5 132.5h0M319.1 131.3h0M324.1 131.3h0M338.4 131.4h0M341.7 132.4h0M342.9 132.4h0M354.5 131.4h0M359.2 131.4h0M360.4 131.4h0M360.4 132.4h0M363.6 131.4h0M365.4 131.4h0M365.1 132.4h0M367.1 132.4h0M368.6 132.4h0M370.0 132.4h0M372.0 131.4h0M376.3 132.4h0M378.4 132.4h0M380.0 131.4h0M381.1 131.4h0M382.7 131.4h0M388.0 132.4h0M389.1 131.4h0M394.1 132.3h0M396.0 132.3h0M402.2 131.5h0M406.9 131.5h0M410.2 132.3h0M415.0 132.3h0M416.3 132.3h0M418.1 132.3h0M421.2 131.5h0M427.5 131.5h0M427.5 132.3h0M429.3 132.3h0M434.3 131.5h0M439.3 132.3h0M440.5 131.5h0M443.7 132.3h0M446.7 131.9h0M451.7 131.9h0M457.9 131.9h0M460.4 131.9h0M464.2 131.9h0M465.4 131.9h0M467.9 131.9h0M240.6 245.1h0M247.8 393.3h0M249.4 394.8h0M254.3 393.3h0M255.8 393.3h0M282.8 394.7h0M284.7 393.4h0M284.3 394.7h0M288.0 394.7h0M291.2 393.4h0M290.8 394.7h0M246.6 468.4h0M250.9 469.6h0M252.8 469.6h0M262.2 468.4h0M262.1 469.6h0M265.6 469.6h0M266.9 469.6h0M268.9 469.6h0M239.7 507.0h0M241.0 507.0h0M242.4 507.0h0M244.6 507.0h0M245.7 505.8h0M249.3 505.8h0M249.1 507.0h0M250.8 505.8h0M252.4 505.8h0M253.6 505.8h0M262.2 505.8h0M263.5 507.0h0M268.2 507.0h0M271.3 507.0h0M276.4 507.0h0M279.6 505.8h0M281.1 505.8h0M289.4 505.8h0M290.6 507.0h0M292.5 507.0h0M294.0 507.0h0M295.4 505.8h0M295.7 507.0h0M298.4 505.8h0M298.9 507.0h0M306.6 507.0h0M310.1 507.0h0M312.9 507.0h0M321.4 505.8h0M324.5 505.8h0M328.9 505.8h0M334.0 505.8h0M334.0 507.0h0M335.3 507.0h0M338.8 505.8h0M340.5 505.8h0M341.7 507.0h0M345.3 505.8h0M347.0 505.8h0M349.9 505.8h0M351.5 505.8h0M359.7 505.9h0M359.4 506.9h0M361.0 506.9h0M364.4 505.9h0M366.1 506.9h0M367.7 506.9h0M369.0 505.9h0M382.0 505.9h0M384.9 505.9h0M388.1 505.9h0M391.4 505.9h0M398.1 505.9h0M397.9 506.9h0M401.5 506.9h0M402.9 505.9h0M406.0 505.9h0M407.2 506.9h0M409.0 506.9h0M415.3 506.9h0M417.3 505.9h0M420.3 506.9h0M422.2 506.9h0M423.2 505.9h0M426.8 506.9h0M430.1 506.9h0M431.3 506.9h0M437.7 506.9h0M444.4 505.9h0M450.9 505.9h0M456.9 505.9h0M460.6 505.9h0M259.2 618.1h0M261.0 618.1h0M260.7 619.4h0M262.8 618.1h0M264.4 619.4h0M267.0 619.4h0M273.9 619.4h0M276.7 619.4h0M280.5 618.1h0M288.5 618.1h0M291.7 618.1h0M291.1 619.4h0M296.1 619.4h0M299.6 618.1h0M299.3 619.4h0M306.0 619.4h0M308.8 619.4h0M310.5 618.1h0M310.9 619.4h0" stroke="#ff0051"/><path d="M198.1 128.9h0M220.1 255.4h0M194.1 282.4h0M228.5 433.0h0M229.7 433.1h0M229.8 617.7h0M255.3 693.0h0M217.2 769.5h0" stroke="#0082f8"/><path d="M211.8 173.0h0M221.5 165.9h0M242.8 393.3h0M244.4 393.3h0M318.2 469.3h0M241.6 456.4h0M230.9 661.2h0" stroke="#d10091"/><path d="M215.3 163.6h0M260.6 357.4h0M238.1 431.5h0M227.1 614.0h0M232.3 759.7h0" stroke="#dd0088"/><path d="M214.9 175.2h0M216.6 171.2h0M218.1 283.9h0M276.8 357.3h0M281.5 469.5h0M240.0 481.6h0" stroke="#006fed"/><path d="M216.6 163.6h0M292.8 357.3h0M352.0 356.2h0" stroke="#0071ee"/><path d="M243.9 168.8h0M243.9 169.9h0M276.4 394.7h0M230.3 469.0h0M241.6 618.0h0M243.7 618.0h0M244.9 731.8h0" stroke="#fe005c"/><path d="M219.7 162.4h0" stroke="#4c63e3"/><path d="M219.7 178.3h0M226.1 545.6h0M228.8 622.8h0" stroke="#5b5ddd"/><path d="M219.1 209.5h0M348.7 356.2h0M276.7 468.4h0M307.5 468.5h0M226.9 509.3h0" stroke="#bf009d"/><path d="M220.7 209.6h0M244.3 431.5h0M235.4 467.8h0M236.7 471.5h0" stroke="#ee0076"/><path d="M224.2 206.8h0M234.7 507.4h0" stroke="#c2009c"/><path d="M232.2 206.0h0" stroke="#f80067"/><path d="M236.5 206.0h0" stroke="#b00fa5"/><path d="M240.2 206.0h0" stroke="#b900a0"/><path d="M257.9 206.1h0M275.3 318.2h0M296.2 357.2h0M360.1 357.0h0M371.6 356.6h0" stroke="#306ae9"/><path d="M270.2 206.2h0M227.6 287.4h0M352.3 357.0h0M241.4 468.0h0M224.3 540.4h0" stroke="#0073ef"/><path d="M299.0 207.3h0M243.1 357.6h0M224.3 547.3h0" stroke="#5261e1"/><path d="M300.5 206.3h0M302.3 206.3h0M312.2 206.3h0M318.5 207.2h0M319.7 206.4h0M328.3 206.4h0M333.1 206.4h0M335.8 207.2h0M337.6 206.4h0M339.3 207.2h0M340.7 207.2h0M342.3 206.4h0M344.0 206.8h0M346.5 206.8h0M354.0 206.8h0M223.0 254.3h0M206.6 355.9h0M208.0 357.5h0M211.3 357.9h0M212.9 355.0h0M217.5 353.7h0M217.8 359.5h0M219.5 355.5h0M221.1 352.1h0M221.2 354.6h0M221.1 356.6h0M222.3 352.3h0M224.3 349.3h0M227.6 351.1h0M227.1 355.5h0M229.2 359.9h0M230.3 352.2h0M230.5 354.5h0M232.4 354.7h0M228.1 343.8h0M227.7 345.8h0M225.5 349.7h0M227.9 349.7h0M225.2 351.7h0M227.8 367.4h0M262.3 394.8h0M279.4 393.4h0M281.1 393.4h0M222.4 401.1h0M237.6 656.8h0M244.3 655.6h0M243.8 656.8h0M247.4 656.8h0M250.7 655.7h0M251.9 655.7h0M254.0 655.7h0M254.0 656.7h0M255.2 655.7h0M256.8 656.7h0M261.7 656.7h0M264.6 655.7h0M265.2 656.7h0M266.4 655.7h0M269.6 655.7h0M270.9 655.7h0M274.6 655.7h0M276.1 656.6h0M277.5 655.8h0M277.8 656.6h0M279.1 655.8h0M282.2 655.8h0M283.8 656.6h0M293.5 655.8h0M295.4 656.6h0M298.2 655.8h0M301.9 656.6h0M310.8 656.2h0M312.0 656.2h0" stroke="#0084f9"/><path d="M222.0 201.9h0M222.0 203.9h0" stroke="#ec0078"/><path d="M222.0 213.6h0M220.9 215.6h0M222.1 507.4h0" stroke="#bc009f"/><path d="M221.9 215.6h0" stroke="#b30aa3"/><path d="M222.1 217.5h0" stroke="#b604a2"/><path d="M222.9 234.0h0M222.8 242.0h0" stroke="#0085f9"/><path d="M223.1 246.5h0" stroke="#0086fa"/><path d="M250.5 243.5h0" stroke="#e9007c"/><path d="M208.5 282.8h0" stroke="#0081f7"/><path d="M224.6 284.2h0M226.4 281.7h0" stroke="#fa0065"/><path d="M267.2 317.4h0M224.3 469.0h0" stroke="#ff0056"/><path d="M270.8 357.4h0M347.5 357.0h0M278.0 582.1h0M224.7 656.8h0" stroke="#cf0093"/><path d="M360.0 356.2h0M310.0 468.5h0M233.4 493.3h0M228.8 501.4h0M228.9 509.4h0" stroke="#c70098"/><path d="M268.4 394.7h0M238.5 619.5h0" stroke="#f4006e"/><path d="M273.2 393.4h0M238.4 466.8h0" stroke="#f6006c"/><path d="M247.5 431.5h0M241.1 580.2h0M239.5 592.6h0M251.3 730.4h0" stroke="#ff005a"/><path d="M255.3 433.1h0M232.9 552.1h0" stroke="#e7007e"/><path d="M228.5 467.7h0" stroke="#f00074"/><path d="M326.9 469.0h0M228.3 503.1h0" stroke="#c5009a"/><path d="M219.9 543.1h0" stroke="#9d22ac"/><path d="M229.7 546.8h0" stroke="#f7006a"/><path d="M235.5 541.8h0M240.8 582.4h0" stroke="#e50080"/><path d="M231.7 659.2h0" stroke="#f10072"/><path d="M175.5 56.5h0M302.3 207.3h0M310.5 207.3h0M311.9 207.3h0M313.7 206.3h0M318.3 206.4h0M321.6 206.4h0M321.8 207.2h0M324.8 206.4h0M324.8 207.2h0M331.3 207.2h0M333.0 207.2h0M336.2 206.4h0M337.4 207.2h0M339.2 206.4h0M349.0 206.8h0M351.5 206.8h0M352.8 206.8h0M215.4 240.1h0M219.8 237.1h0M221.5 235.1h0M205.1 356.1h0M206.5 357.3h0M209.5 357.7h0M211.4 355.3h0M213.2 356.6h0M212.8 358.2h0M214.3 354.6h0M218.1 357.5h0M219.2 352.9h0M219.6 357.8h0M222.9 350.6h0M222.5 362.6h0M223.8 351.2h0M224.2 353.4h0M225.7 359.8h0M225.8 361.7h0M225.6 363.9h0M227.3 349.3h0M227.6 353.7h0M227.1 357.9h0M230.7 361.0h0M232.1 356.6h0M234.0 357.7h0M228.0 347.7h0M228.0 357.6h0M227.9 359.6h0M228.0 369.4h0M278.3 394.7h0M281.5 394.7h0M222.8 405.1h0M239.2 655.6h0M240.6 655.6h0M242.4 656.8h0M252.1 656.7h0M255.0 656.7h0M258.5 656.7h0M259.8 655.7h0M263.4 655.7h0M266.2 656.7h0M276.4 655.8h0M280.9 655.8h0M282.1 656.6h0M284.2 655.8h0M285.7 656.6h0M289.0 656.6h0M293.5 656.6h0M298.1 656.6h0M303.3 656.2h0M304.5 656.2h0M305.8 656.2h0M307.0 656.2h0M309.5 656.2h0M313.3 656.2h0" stroke="#0084f9"/><path d="M177.1 56.1h0M202.8 54.2h0M254.8 133.5h0M269.5 129.7h0M222.9 288.5h0M253.3 355.2h0M274.8 582.1h0M231.9 645.1h0" stroke="#d6008e"/><path d="M180.2 58.0h0M197.7 91.5h0M211.5 130.7h0M213.9 170.6h0M220.8 213.6h0M222.9 288.7h0M299.2 469.4h0M229.1 553.3h0M232.8 554.0h0M238.3 580.3h0M226.2 655.2h0" stroke="#8a3cc0"/><path d="M185.4 58.1h0M268.0 129.7h0M221.2 274.9h0M231.8 649.1h0" stroke="#d40090"/><path d="M188.5 55.9h0M280.4 129.9h0M212.2 165.7h0M223.1 286.7h0M222.9 290.7h0M327.8 357.1h0M329.7 356.1h0M292.6 468.5h0M310.6 469.4h0M233.4 505.4h0M230.6 619.8h0" stroke="#cd0095"/><path d="M189.7 53.9h0M195.1 103.3h0M223.0 274.7h0M243.1 431.5h0M241.6 464.1h0M240.1 475.7h0M241.5 475.7h0M233.9 548.0h0M230.4 612.5h0" stroke="#db008a"/><path d="M190.2 55.8h0M205.7 100.7h0M224.1 616.6h0M252.3 692.7h0" stroke="#0076f1"/><path d="M190.0 57.9h0M192.4 133.7h0M226.6 422.5h0M228.7 434.5h0M226.3 438.5h0M229.9 615.7h0M236.1 696.2h0M243.6 730.5h0" stroke="#007bf4"/><path d="M194.7 53.7h0M200.6 137.5h0M217.0 173.2h0M219.0 206.1h0M224.2 288.5h0M230.7 530.9h0" stroke="#8244c7"/><path d="M195.0 58.2h0M196.3 96.6h0M201.1 83.4h0M197.2 137.7h0M213.4 172.5h0M331.5 357.1h0M226.6 420.5h0M240.0 470.8h0M240.2 471.9h0M229.6 544.9h0" stroke="#7d49cc"/><path d="M196.1 60.2h0M196.3 47.9h0M259.5 207.5h0M218.5 257.2h0M219.6 233.1h0M310.8 357.2h0M228.4 420.5h0M240.2 469.9h0M222.5 617.3h0" stroke="#6c54d6"/><path d="M197.7 51.4h0M188.2 95.7h0M215.1 173.2h0M218.1 171.1h0M208.7 206.8h0M211.0 206.4h0M216.0 207.9h0M222.5 209.6h0M222.7 274.9h0M206.2 767.9h0" stroke="#8542c5"/><path d="M197.9 53.5h0M221.2 617.8h0" stroke="#575fdf"/><path d="M201.0 52.9h0M225.0 508.5h0M233.3 501.4h0M232.4 619.8h0" stroke="#d10091"/><path d="M201.0 59.1h0M194.2 126.1h0M210.2 133.1h0M219.9 156.5h0M251.2 207.5h0M211.5 282.9h0M239.9 456.4h0" stroke="#7350d2"/><path d="M204.7 55.4h0M196.4 52.0h0M283.4 207.4h0M222.7 545.6h0M225.9 543.9h0M227.8 535.0h0M218.1 618.8h0" stroke="#605bdc"/><path d="M204.5 58.6h0M206.0 94.5h0M211.0 94.5h0M192.6 131.9h0M198.2 144.7h0M205.3 280.7h0M268.8 393.4h0M226.7 424.5h0M228.6 428.5h0" stroke="#0079f3"/><path d="M205.7 57.8h0M186.5 132.7h0M189.2 137.1h0M218.4 133.0h0M217.0 233.4h0M211.7 280.5h0M323.2 356.1h0M331.3 356.1h0M228.8 394.9h0M226.4 430.5h0" stroke="#6f52d4"/><path d="M207.5 57.7h0M209.0 57.7h0M214.2 57.6h0M187.9 132.6h0M205.3 129.2h0M291.0 207.4h0M218.0 244.2h0M221.8 230.9h0M225.9 380.9h0M222.7 387.0h0M213.2 544.3h0M216.5 543.3h0" stroke="#007ff7"/><path d="M215.9 56.5h0M252.2 244.7h0" stroke="#e9007c"/><path d="M220.1 57.5h0M223.7 56.5h0M227.0 56.5h0M231.7 56.5h0M233.1 57.5h0M235.0 57.5h0M239.5 56.5h0M245.7 56.6h0M245.7 57.4h0M249.2 56.6h0M250.7 56.6h0M252.6 57.4h0M253.7 56.6h0M257.2 57.0h0M262.2 57.0h0M268.4 57.0h0M279.7 57.0h0M289.7 57.0h0M292.2 57.0h0M295.9 57.0h0M297.2 56.6h0M299.0 57.4h0M301.9 56.4h0M301.8 57.6h0M303.3 57.6h0M305.0 56.3h0M313.3 56.2h0M315.0 56.3h0M316.6 57.6h0M319.7 56.5h0M321.3 56.6h0M325.7 57.0h0M326.9 57.0h0M328.2 57.0h0M329.4 57.0h0M336.9 57.0h0M343.2 57.0h0M349.4 57.0h0M364.4 57.0h0M365.7 57.0h0M371.9 57.0h0M376.9 57.0h0M228.5 93.6h0M228.2 95.3h0M230.3 93.6h0M230.2 95.3h0M231.5 95.2h0M233.3 93.7h0M234.8 93.7h0M236.7 93.7h0M236.1 95.2h0M238.2 95.2h0M240.9 93.6h0M247.4 93.5h0M248.9 93.4h0M263.4 95.4h0M265.2 93.5h0M266.6 93.6h0M266.6 95.3h0M270.0 93.7h0M271.9 93.7h0M274.9 93.8h0M282.5 94.0h0M282.8 94.9h0M284.1 94.0h0M285.8 94.1h0M286.1 94.8h0M287.6 94.5h0M295.1 94.5h0M297.6 94.5h0M298.9 94.5h0M305.1 94.5h0M306.4 94.5h0M307.6 94.5h0M311.4 94.5h0M315.1 94.5h0M318.9 94.5h0M325.1 94.5h0M333.9 94.5h0M335.1 94.5h0M336.4 94.5h0M345.1 94.5h0M347.6 94.5h0M351.4 94.5h0M352.6 94.5h0M366.4 94.5h0M372.6 94.5h0M378.9 94.5h0M381.4 94.5h0M385.1 94.5h0M387.6 94.5h0M390.1 94.5h0M393.9 94.5h0M396.4 94.5h0M397.6 94.5h0M420.1 94.5h0M422.6 94.5h0M428.9 94.5h0M433.9 94.5h0M435.1 94.5h0M437.6 94.5h0M447.6 94.5h0M451.4 94.5h0M465.1 94.5h0M466.4 94.5h0M472.6 94.5h0M475.1 94.5h0M477.6 94.5h0M481.4 94.5h0M482.6 94.5h0M483.9 94.5h0M490.1 94.5h0M491.4 94.5h0M500.1 94.5h0M502.6 94.5h0M505.1 94.5h0M506.4 94.5h0M511.4 94.5h0M516.4 94.5h0M520.1 94.5h0M523.9 94.5h0M229.8 170.4h0M231.4 168.7h0M235.9 168.8h0M242.4 169.9h0M248.9 168.8h0M251.7 169.9h0M254.9 169.9h0M260.0 168.8h0M261.9 168.8h0M261.9 169.9h0M267.8 168.8h0M271.1 168.8h0M272.8 168.8h0M275.8 168.8h0M277.4 168.8h0M277.8 169.9h0M285.8 169.9h0M287.3 169.9h0M293.5 169.9h0M295.2 168.8h0M297.1 169.9h0M301.4 168.8h0M305.0 168.8h0M305.0 169.9h0M306.1 168.8h0M309.5 168.8h0M309.7 169.9h0M311.3 169.8h0M314.7 168.9h0M320.7 168.9h0M322.2 169.8h0M325.8 169.8h0M328.9 169.8h0M335.3 168.9h0M336.9 168.9h0M337.1 169.8h0M338.4 168.9h0M349.9 168.9h0M352.9 168.9h0M354.6 168.9h0M355.9 168.9h0M357.7 169.8h0M358.9 169.8h0M362.2 169.8h0M363.7 169.8h0M369.1 168.9h0M370.5 168.9h0M372.2 169.8h0M373.7 168.9h0M374.9 168.9h0M383.5 168.9h0M387.8 168.9h0M394.3 169.7h0M399.1 169.0h0M403.9 169.0h0M408.7 169.0h0M410.4 169.7h0M412.1 169.7h0M418.6 169.7h0M419.8 169.0h0M420.2 169.7h0M422.9 169.7h0M424.7 169.0h0M424.6 169.7h0M426.3 169.7h0M428.2 169.7h0M429.6 169.4h0M432.1 169.4h0M438.4 169.4h0M440.9 169.4h0M459.6 169.4h0M463.4 169.4h0M464.6 169.4h0M465.9 169.4h0M467.1 169.4h0M216.4 246.2h0M220.2 243.2h0M221.2 251.2h0M224.8 246.3h0M245.4 243.2h0M247.3 243.1h0M260.0 243.8h0M261.4 244.7h0M263.3 243.8h0M269.2 243.8h0M274.1 244.7h0M277.6 243.8h0M277.8 244.7h0M280.8 243.8h0M282.5 244.7h0M285.7 243.8h0M285.2 244.7h0M288.6 244.7h0M293.2 243.8h0M295.1 244.7h0M296.5 243.8h0M298.4 244.7h0M299.7 244.7h0M303.0 244.7h0M307.6 244.7h0M312.9 244.7h0M314.6 243.8h0M317.7 243.8h0M317.5 244.7h0M320.5 243.8h0M326.9 244.7h0M328.4 243.8h0M330.4 244.7h0M343.0 244.6h0M347.8 244.6h0M352.8 243.9h0M354.4 243.9h0M354.1 244.6h0M360.7 243.9h0M362.0 243.9h0M363.6 244.6h0M365.2 243.9h0M372.2 243.9h0M374.8 243.9h0M381.8 243.9h0M383.4 244.6h0M387.2 244.2h0M404.7 244.2h0M424.7 244.2h0M426.0 244.2h0M234.2 280.9h0M241.9 282.5h0M248.3 281.0h0M253.1 282.4h0M254.7 281.0h0M260.1 281.0h0M266.3 281.0h0M271.3 281.0h0M274.1 281.0h0M273.9 282.4h0M275.7 281.0h0M277.0 282.4h0M280.2 281.1h0M281.8 282.3h0M291.5 282.3h0M296.6 282.3h0M301.1 282.3h0M306.4 281.1h0M309.2 282.3h0M310.7 282.3h0M312.5 282.2h0M314.2 281.2h0M313.9 282.2h0M318.7 281.2h0M320.4 281.2h0M322.3 281.2h0M322.0 282.2h0M325.2 282.2h0M338.3 281.2h0M343.0 281.2h0M342.7 282.2h0M344.3 281.2h0M344.2 282.2h0M347.8 282.1h0M351.0 282.1h0M354.2 282.1h0M355.9 282.1h0M361.9 282.1h0M367.0 282.1h0M371.7 282.1h0M375.1 281.3h0M376.7 282.1h0M388.2 281.7h0M391.9 281.7h0M205.2 319.9h0M209.7 320.0h0M211.1 320.0h0M216.1 320.0h0M220.8 315.0h0M220.7 319.2h0M222.3 311.9h0M222.6 322.2h0M222.5 324.2h0M222.6 326.5h0M223.8 314.2h0M224.2 324.3h0M228.7 321.4h0M230.9 319.8h0M232.2 318.5h0M232.1 319.8h0M235.2 318.5h0M238.8 318.5h0M240.4 318.6h0M245.2 319.7h0M246.2 319.7h0M262.7 317.4h0M284.7 319.7h0M286.4 319.7h0M288.1 319.6h0M289.4 318.7h0M290.1 319.6h0M225.4 308.9h0M225.6 311.0h0M225.7 317.1h0M225.5 325.3h0M223.4 329.4h0M293.8 393.4h0M295.7 394.7h0M305.5 393.5h0M308.2 394.6h0M310.2 394.6h0M313.4 394.6h0M316.9 394.6h0M323.1 393.5h0M322.8 394.6h0M324.3 393.5h0M327.6 394.6h0M335.9 394.6h0M337.4 393.5h0M340.9 394.5h0M343.8 394.5h0M347.2 394.5h0M348.5 393.6h0M350.5 393.6h0M353.1 394.5h0M356.7 394.5h0M358.1 394.5h0M359.4 393.6h0M360.0 394.5h0M363.0 394.5h0M364.4 393.6h0M370.9 394.5h0M372.4 393.6h0M374.3 393.6h0M375.7 393.6h0M377.2 393.7h0M378.8 394.4h0M380.7 394.4h0M385.4 393.7h0M388.6 393.7h0M388.5 394.4h0M390.3 393.7h0M393.4 394.4h0M410.0 394.1h0M237.5 542.6h0M239.2 543.2h0M239.2 544.5h0M242.4 543.2h0M242.4 544.5h0M243.6 543.2h0M243.9 544.5h0M248.7 544.5h0M252.0 543.2h0M251.6 544.5h0M253.5 544.5h0M254.7 543.2h0M255.3 544.5h0M256.6 543.2h0M263.3 543.2h0M262.9 544.5h0M266.1 543.2h0M266.4 544.5h0M269.7 543.2h0M271.0 544.4h0M272.8 544.4h0M274.2 543.3h0M275.5 543.3h0M279.2 543.3h0M287.1 544.4h0M288.4 543.3h0M293.3 543.3h0M296.6 544.4h0M297.9 543.3h0M300.1 543.3h0M299.5 544.4h0M193.7 581.3h0M194.9 581.3h0M198.1 580.8h0M199.6 581.8h0M204.4 581.9h0M206.1 580.7h0M206.0 581.9h0M209.2 580.7h0M210.4 580.6h0M224.9 582.8h0M228.5 573.8h0M229.8 586.6h0M231.7 586.6h0M234.7 582.6h0M246.3 618.0h0M251.2 618.1h0M251.1 619.4h0M256.5 618.1h0M210.4 692.8h0M212.1 692.7h0M215.7 692.7h0M217.1 692.6h0M220.3 692.5h0M220.4 694.8h0M224.8 692.4h0M227.0 692.4h0M228.2 693.7h0M229.9 689.4h0M230.0 695.7h0M231.8 688.4h0M231.8 690.4h0M231.7 692.7h0M231.5 694.5h0M231.2 697.0h0M234.8 694.4h0M283.8 694.2h0M287.2 693.2h0M291.6 693.2h0M291.6 694.1h0M293.2 694.1h0M296.1 693.2h0M296.7 694.1h0M299.8 694.1h0M302.8 694.1h0M306.2 694.1h0M308.0 693.2h0M309.3 694.1h0M310.5 693.2h0M312.7 694.0h0M314.0 694.0h0M319.2 693.3h0M321.9 693.3h0M325.4 694.0h0M329.4 693.7h0M330.6 693.7h0M331.9 693.7h0M335.6 693.7h0M230.9 681.4h0M230.6 687.5h0M232.1 689.6h0M230.7 693.7h0M230.7 695.7h0M232.2 695.7h0M232.4 701.9h0M230.9 706.0h0M232.3 706.0h0M230.2 728.5h0M230.6 733.7h0M238.4 731.7h0M231.0 728.1h0M231.0 743.9h0M238.2 767.6h0M237.7 769.5h0M239.2 767.8h0M247.3 767.8h0M249.0 767.8h0M248.8 769.3h0M252.5 767.8h0M253.8 769.3h0M259.0 767.8h0M258.8 769.3h0M260.0 767.8h0M262.1 767.9h0M261.9 769.2h0M263.3 767.9h0M281.3 767.9h0M285.6 768.0h0M293.9 769.1h0M302.2 769.1h0M304.8 769.1h0M307.0 769.0h0M310.1 768.1h0M311.7 768.1h0M313.2 768.1h0M314.7 769.0h0M318.0 769.0h0M319.2 769.0h0M321.1 768.1h0M320.7 769.0h0M325.5 768.1h0M327.3 769.0h0M329.0 768.9h0M332.1 768.2h0M333.9 768.2h0M333.6 768.9h0M335.4 768.2h0M337.0 768.2h0M338.6 768.2h0M338.5 768.9h0M346.5 768.6h0" stroke="#0088fa"/><path d="M198.2 52.0h0M198.2 60.0h0M211.1 98.7h0M202.0 135.1h0M199.3 280.9h0M237.0 355.8h0M342.5 356.2h0M240.1 464.1h0M221.1 542.8h0" stroke="#6857d8"/><path d="M196.4 58.0h0M224.9 130.9h0M231.1 131.0h0M260.1 129.9h0M220.5 505.9h0M225.0 504.3h0M232.3 765.6h0" stroke="#9233b9"/><path d="M196.4 60.0h0M198.2 68.1h0M196.5 98.7h0M201.5 94.5h0M197.4 128.2h0M199.1 131.9h0M225.9 208.6h0M235.4 206.0h0M269.0 206.2h0M222.6 277.2h0M227.5 278.3h0M220.3 393.4h0M226.5 434.5h0M215.5 769.5h0" stroke="#794cce"/><path d="M196.4 62.0h0M191.3 90.1h0M229.2 131.0h0M231.3 429.8h0M279.7 469.5h0M228.8 497.3h0" stroke="#8f36bb"/><path d="M196.3 66.1h0M205.5 169.0h0M205.9 169.7h0M208.9 168.6h0M208.9 170.1h0M304.4 356.0h0M317.1 356.0h0" stroke="#764ed0"/><path d="M196.4 70.1h0M219.8 130.8h0M258.5 131.9h0M315.5 469.3h0M329.4 469.0h0M228.5 507.7h0M230.9 763.6h0" stroke="#9430b6"/><path d="M182.7 94.5h0M237.4 168.8h0M237.6 169.9h0M266.2 168.8h0M231.0 280.9h0M278.5 319.9h0M273.5 357.3h0M276.6 393.4h0M246.2 431.5h0" stroke="#fe005c"/><path d="M188.4 91.4h0M265.7 317.2h0M249.0 429.2h0M230.6 467.3h0" stroke="#ff005a"/><path d="M188.7 93.4h0M245.4 133.1h0M301.5 132.8h0M218.2 175.2h0M261.5 582.1h0" stroke="#dd0088"/><path d="M190.3 89.8h0M199.5 86.1h0M227.5 285.1h0M318.8 356.0h0M336.0 357.1h0M226.4 541.6h0" stroke="#4066e6"/><path d="M190.1 99.1h0M247.0 133.1h0M213.6 168.4h0M215.9 182.3h0M221.0 279.6h0M288.3 357.3h0M229.5 539.1h0M232.6 550.2h0M244.0 580.4h0M230.2 618.8h0M230.4 625.0h0M214.1 767.7h0" stroke="#d9008c"/><path d="M191.5 96.3h0M195.0 89.9h0M202.5 81.3h0M235.6 132.9h0M269.6 134.1h0M223.3 279.7h0M225.2 268.7h0M243.6 355.6h0M246.7 355.5h0M259.3 355.7h0M233.4 433.4h0M285.1 469.5h0M228.7 505.6h0M239.2 582.4h0M238.3 572.1h0M230.7 773.5h0" stroke="#8d39be"/><path d="M191.9 98.3h0M199.3 83.9h0M202.8 94.5h0M264.9 134.2h0M220.3 167.2h0M215.8 170.3h0M232.3 537.7h0M255.7 582.1h0M225.3 767.5h0" stroke="#883fc2"/><path d="M193.1 89.2h0" stroke="#df0086"/><path d="M192.9 93.4h0M178.5 131.9h0M180.1 132.3h0M200.4 128.8h0M202.3 128.5h0M195.6 140.8h0M228.1 167.9h0M233.3 206.0h0M252.8 206.1h0M256.1 207.5h0M216.8 284.5h0M217.9 281.7h0M302.7 357.2h0M342.7 357.0h0" stroke="#8047c9"/><path d="M193.2 97.9h0M291.1 355.9h0M225.3 468.5h0M271.1 582.1h0" stroke="#ff0058"/><path d="M196.1 84.3h0M222.6 204.0h0M241.8 730.5h0M241.8 731.7h0" stroke="#ec0078"/><path d="M196.5 90.5h0M226.5 171.6h0M310.3 356.0h0M311.9 357.2h0M337.6 356.1h0M308.9 469.4h0M268.1 580.5h0" stroke="#186deb"/><path d="M197.7 85.1h0M199.7 88.0h0M218.2 173.3h0M215.9 164.4h0M265.9 207.5h0M225.1 288.7h0M288.0 355.9h0M227.9 537.5h0" stroke="#306ae9"/><path d="M197.7 101.4h0M232.0 471.0h0" stroke="#e7007e"/><path d="M201.2 100.8h0M262.1 207.5h0M283.0 206.2h0M224.8 274.9h0M226.2 274.9h0M222.8 294.7h0M259.5 317.9h0M263.8 321.1h0M262.8 357.4h0M265.8 355.8h0M241.4 477.7h0M228.6 517.5h0" stroke="#006fed"/><path d="M202.5 87.8h0" stroke="#e50080"/><path d="M204.2 84.5h0M211.0 96.5h0M218.9 96.4h0M274.8 393.4h0M230.4 621.1h0" stroke="#007cf5"/><path d="M204.4 94.5h0M222.7 380.9h0M225.9 395.1h0M225.9 405.1h0" stroke="#5b5ddd"/><path d="M204.5 100.7h0M205.7 90.0h0M228.9 614.8h0" stroke="#0074f0"/><path d="M204.1 106.6h0M194.4 134.0h0M195.8 135.8h0M195.4 121.1h0M202.3 280.8h0M205.3 282.7h0M208.5 280.6h0M217.7 394.1h0M238.5 394.8h0M265.7 393.3h0M272.1 394.7h0M228.4 424.5h0M236.2 693.7h0M237.7 696.1h0M239.1 691.4h0M250.7 694.8h0" stroke="#0077f2"/><path d="M207.7 101.3h0M207.6 103.6h0M214.1 92.4h0M195.6 119.1h0M231.9 394.8h0M238.0 393.3h0M226.0 393.0h0M226.0 407.2h0M228.6 430.5h0M226.6 442.5h0M229.7 630.0h0" stroke="#007ef6"/><path d="M209.1 100.2h0M307.7 357.2h0M260.5 580.5h0" stroke="#0073ef"/><path d="M214.2 90.5h0M226.4 549.8h0" stroke="#5261e1"/><path d="M187.9 128.9h0M191.0 137.4h0M198.7 129.9h0M200.9 135.3h0M224.8 248.6h0M228.2 243.6h0M228.2 244.9h0M189.7 281.7h0M192.7 281.1h0M273.8 318.1h0M233.7 394.8h0M270.3 394.7h0M228.4 438.5h0M229.8 623.9h0M241.4 695.7h0" stroke="#0081f7"/><path d="M240.5 130.8h0M233.5 431.5h0" stroke="#b30aa3"/><path d="M242.0 133.0h0" stroke="#aa17a7"/><path d="M246.9 130.7h0M219.7 182.3h0M221.3 281.7h0M277.3 355.9h0M228.2 654.8h0M229.5 657.7h0" stroke="#cf0093"/><path d="M248.6 130.7h0M227.5 552.7h0" stroke="#a71aa9"/><path d="M259.9 131.9h0M286.6 468.4h0M288.0 469.5h0M225.3 506.4h0M229.9 509.7h0M232.9 654.9h0M234.7 767.0h0" stroke="#962db3"/><path d="M261.5 131.9h0M262.8 134.1h0M265.4 394.8h0M273.1 394.7h0M234.0 617.5h0M231.8 647.1h0" stroke="#f6006c"/><path d="M264.5 131.9h0M290.2 133.4h0M291.9 133.3h0M302.7 131.0h0M257.4 357.8h0M233.5 471.3h0M230.8 541.5h0M232.8 547.8h0M276.2 580.5h0M231.6 663.3h0M248.4 731.8h0" stroke="#fc0061"/><path d="M275.8 129.8h0" stroke="#f30070"/><path d="M275.5 131.9h0M219.6 285.7h0M225.0 282.7h0M231.3 548.1h0M232.4 755.8h0" stroke="#fa0065"/><path d="M283.6 130.1h0M232.1 207.6h0M235.1 394.8h0" stroke="#f80067"/><path d="M288.4 130.3h0M282.1 357.3h0M236.4 580.1h0" stroke="#fb0063"/><path d="M293.6 133.2h0M254.5 319.9h0M234.8 471.6h0M236.2 582.5h0" stroke="#ff0056"/><path d="M306.2 131.2h0M307.5 132.5h0M311.1 132.5h0M314.0 132.5h0M316.0 131.3h0M317.1 132.5h0M318.7 132.5h0M320.4 131.3h0M322.2 132.5h0M323.9 132.5h0M328.8 132.5h0M330.0 131.3h0M333.2 132.5h0M335.1 132.5h0M340.1 131.4h0M341.7 131.4h0M344.5 131.4h0M344.6 132.4h0M346.2 132.4h0M348.1 132.4h0M355.9 131.4h0M355.7 132.4h0M362.2 131.4h0M367.2 131.4h0M370.5 131.4h0M375.1 132.4h0M376.7 131.4h0M378.2 131.4h0M384.8 131.4h0M387.7 131.4h0M394.4 131.5h0M399.2 131.5h0M398.9 132.3h0M400.7 131.5h0M400.5 132.3h0M402.1 132.3h0M403.8 131.5h0M403.6 132.3h0M408.8 131.5h0M408.4 132.3h0M411.5 132.3h0M413.7 132.3h0M414.9 131.5h0M419.5 132.3h0M430.9 131.5h0M449.2 131.9h0M450.4 131.9h0M455.4 131.9h0M456.7 131.9h0M231.3 243.7h0M236.2 244.9h0M237.3 245.0h0M252.8 394.8h0M254.0 394.8h0M256.0 394.8h0M286.1 394.7h0M289.4 394.7h0M244.8 469.6h0M249.5 469.6h0M254.5 469.6h0M255.9 468.4h0M270.0 468.4h0M271.7 469.6h0M243.1 505.8h0M244.1 505.8h0M247.8 505.8h0M258.8 505.8h0M263.3 505.8h0M265.2 507.0h0M268.5 505.8h0M281.1 507.0h0M282.6 505.8h0M282.5 507.0h0M284.0 505.8h0M287.2 507.0h0M289.3 507.0h0M300.6 505.8h0M303.5 507.0h0M306.7 505.8h0M308.2 507.0h0M311.9 505.8h0M314.9 505.8h0M315.0 507.0h0M316.7 505.8h0M318.1 505.8h0M320.9 507.0h0M325.9 507.0h0M330.8 507.0h0M335.8 505.8h0M343.3 505.8h0M346.8 507.0h0M348.6 507.0h0M354.4 507.0h0M358.2 505.9h0M361.4 505.9h0M364.7 506.9h0M365.9 505.9h0M367.3 505.9h0M369.2 506.9h0M370.9 505.9h0M371.1 506.9h0M372.3 506.9h0M373.7 505.9h0M380.4 505.9h0M380.1 506.9h0M386.7 505.9h0M386.5 506.9h0M390.2 506.9h0M391.5 506.9h0M394.9 505.9h0M394.7 506.9h0M399.5 506.9h0M403.1 506.9h0M407.3 505.9h0M411.1 506.9h0M412.3 505.9h0M413.7 505.9h0M413.7 506.9h0M415.8 505.9h0M417.4 506.9h0M418.9 505.9h0M425.3 505.9h0M425.0 506.9h0M428.2 505.9h0M428.4 506.9h0M430.1 505.9h0M431.4 505.9h0M433.0 506.9h0M434.6 506.9h0M436.4 505.9h0M437.7 505.9h0M439.6 505.9h0M441.5 506.9h0M444.3 506.9h0M447.6 506.9h0M449.0 506.9h0M450.8 506.9h0M455.4 505.9h0M459.0 505.9h0M458.7 506.9h0M462.1 505.9h0M462.3 506.9h0M464.8 505.9h0M465.3 506.9h0M468.6 506.9h0M471.4 506.9h0M259.5 619.4h0M262.6 619.4h0M265.9 618.1h0M265.7 619.4h0M267.6 618.1h0M268.9 619.4h0M270.9 619.4h0M271.9 619.4h0M275.2 619.4h0M281.9 618.1h0M283.2 618.1h0M285.2 618.1h0M284.8 619.4h0M286.6 619.4h0M290.1 618.1h0M294.5 619.4h0M300.7 618.1h0M302.4 618.1h0M302.4 619.4h0M305.8 618.1h0M307.3 618.1h0" stroke="#ff0051"/><path d="M195.7 123.0h0M224.5 242.1h0M251.5 318.6h0M229.7 632.0h0M230.8 759.7h0" stroke="#0082f8"/><path d="M213.8 166.3h0M215.2 171.5h0M219.8 175.2h0M343.9 356.2h0M362.1 356.2h0M297.3 468.5h0M226.8 505.4h0" stroke="#266cea"/><path d="M220.2 173.3h0M221.9 172.4h0M265.4 321.1h0M290.0 355.9h0M291.3 357.3h0M339.3 356.1h0M271.3 580.5h0M273.0 582.1h0" stroke="#0071ee"/><path d="M227.7 170.8h0M215.6 172.3h0M222.9 280.7h0M224.6 545.0h0" stroke="#3968e7"/><path d="M219.9 170.3h0" stroke="#ca0097"/><path d="M219.8 172.3h0" stroke="#4664e4"/><path d="M217.7 209.1h0" stroke="#f10072"/><path d="M245.1 206.1h0" stroke="#bc009f"/><path d="M281.4 206.2h0M225.9 399.1h0M231.9 613.4h0" stroke="#6459da"/><path d="M288.0 207.4h0M294.3 207.3h0M217.0 237.7h0M216.8 248.6h0M218.3 252.9h0M221.5 249.1h0M251.2 319.7h0M277.2 318.3h0M261.9 393.3h0" stroke="#0085f9"/><path d="M293.0 206.3h0M214.8 246.3h0M221.4 243.1h0M222.5 383.0h0M222.4 395.1h0M222.6 399.1h0M240.5 618.0h0" stroke="#0086fa"/><path d="M295.9 207.3h0" stroke="#0089fa"/><path d="M222.2 196.1h0" stroke="#f00074"/><path d="M220.7 198.0h0M220.3 506.9h0M233.4 503.4h0M228.6 519.5h0" stroke="#c2009c"/><path d="M222.2 219.5h0M219.1 506.4h0M233.4 511.4h0M236.8 616.9h0M230.9 643.1h0M230.5 757.7h0" stroke="#9829b1"/><path d="M215.2 281.7h0M281.8 355.9h0" stroke="#ff0053"/><path d="M220.0 281.7h0M265.9 319.2h0M255.9 355.2h0M225.5 469.4h0M239.3 586.4h0" stroke="#fd005f"/><path d="M333.3 356.1h0M334.6 357.1h0M276.5 469.5h0M300.4 469.4h0M305.6 468.5h0M325.7 469.0h0M228.0 509.7h0M233.2 503.1h0M233.4 517.5h0" stroke="#c5009a"/><path d="M260.8 393.3h0M231.7 661.2h0" stroke="#f4006e"/><path d="M239.8 431.5h0" stroke="#ad13a6"/><path d="M241.4 429.1h0" stroke="#b00fa5"/><path d="M246.0 429.1h0M254.2 429.7h0" stroke="#e30082"/><path d="M248.8 431.5h0" stroke="#ee0076"/><path d="M233.6 466.6h0M236.3 691.1h0M240.8 693.7h0" stroke="#eb007a"/><path d="M278.6 469.5h0M312.2 469.4h0M316.5 468.6h0M226.4 503.5h0M232.9 507.2h0M234.8 503.1h0" stroke="#c70098"/><path d="M223.5 507.9h0" stroke="#b900a0"/><path d="M228.7 503.4h0" stroke="#bf009d"/><path d="M229.4 555.0h0M232.5 535.6h0M249.9 731.8h0" stroke="#e10084"/><path d="M232.3 771.5h0" stroke="#9a25ae"/><path d="M175.8 57.5h0M299.1 206.3h0M303.9 206.3h0M305.7 207.3h0M308.7 206.3h0M313.9 207.3h0M314.9 207.3h0M316.6 206.3h0M320.2 207.2h0M323.1 207.2h0M326.5 206.4h0M328.3 207.2h0M329.5 206.4h0M331.4 206.4h0M334.4 206.4h0M334.2 207.2h0M340.9 206.4h0M345.3 206.8h0M219.7 257.7h0M222.9 256.6h0M226.5 245.4h0M205.3 357.1h0M208.4 355.7h0M209.7 355.5h0M214.2 356.6h0M215.9 354.2h0M216.4 356.6h0M216.2 359.0h0M217.7 355.6h0M220.6 358.6h0M221.0 361.1h0M222.6 356.6h0M222.8 358.8h0M222.6 360.5h0M224.0 355.8h0M224.4 357.7h0M224.3 360.0h0M223.8 363.9h0M226.1 349.3h0M225.4 351.2h0M225.5 353.2h0M225.6 357.9h0M227.2 361.9h0M227.2 363.9h0M228.6 349.3h0M228.8 353.2h0M230.2 356.6h0M232.0 358.5h0M233.4 355.5h0M225.3 343.8h0M225.2 345.8h0M227.8 351.7h0M225.5 353.6h0M228.0 353.6h0M227.7 361.5h0M225.3 365.5h0M227.7 365.5h0M225.4 369.4h0M278.3 393.4h0M222.4 385.0h0M222.7 407.2h0M237.7 655.6h0M241.2 656.8h0M245.9 655.6h0M245.3 656.8h0M247.4 655.6h0M249.1 655.7h0M250.4 656.7h0M258.4 655.7h0M263.0 656.7h0M269.7 656.7h0M274.5 656.7h0M279.6 656.6h0M280.9 656.6h0M285.7 655.8h0M289.1 655.8h0M290.3 655.8h0M290.4 656.6h0M291.9 655.8h0M292.3 656.6h0M296.7 655.8h0M299.8 655.8h0M300.3 656.6h0M301.6 655.8h0" stroke="#0084f9"/><path d="M177.0 57.9h0M261.4 129.8h0M268.1 131.9h0M232.5 617.8h0M231.4 654.8h0" stroke="#d40090"/><path d="M178.8 56.1h0M227.8 282.6h0M241.6 394.8h0M232.3 531.6h0M229.1 625.0h0M231.8 669.3h0M212.0 769.4h0M230.7 779.4h0" stroke="#d6008e"/><path d="M181.9 56.0h0M219.7 180.3h0M318.7 468.6h0M269.8 582.1h0M228.2 657.6h0M205.7 769.2h0" stroke="#d10091"/><path d="M188.2 58.4h0M198.3 58.0h0M198.0 62.6h0M205.4 131.1h0M221.2 241.4h0M200.6 280.8h0M202.3 282.6h0M206.9 282.8h0M222.8 391.0h0M222.7 393.0h0M228.7 436.5h0" stroke="#007ef6"/><path d="M190.1 60.3h0M253.3 133.3h0M210.1 169.4h0M224.9 294.7h0M302.9 356.0h0M236.5 393.3h0M237.9 507.2h0M228.7 511.4h0M245.8 582.2h0M230.6 659.2h0" stroke="#cf0093"/><path d="M191.4 53.4h0M207.3 97.5h0M217.9 544.5h0M228.0 545.8h0" stroke="#6459da"/><path d="M192.9 51.4h0M197.9 95.3h0M202.8 85.5h0M190.9 126.4h0M211.5 133.1h0M216.8 165.3h0M220.2 230.8h0M265.7 357.4h0M280.3 355.9h0M336.1 356.1h0M341.0 357.1h0M225.1 393.2h0M261.6 580.5h0M263.4 582.1h0M225.1 655.6h0" stroke="#7d49cc"/><path d="M193.2 57.9h0M204.4 86.2h0M209.2 86.8h0M212.4 89.7h0M214.2 94.5h0M218.7 94.5h0M220.1 92.9h0M222.1 95.6h0M191.1 130.5h0M196.0 131.9h0M198.2 127.0h0M228.9 393.2h0M229.8 605.5h0M244.9 730.4h0" stroke="#007cf5"/><path d="M195.0 51.4h0M209.2 102.1h0M226.0 401.1h0M226.4 547.9h0M219.4 619.3h0M222.6 620.2h0M229.0 618.8h0" stroke="#605bdc"/><path d="M196.2 62.6h0M196.3 68.1h0M198.1 70.1h0M187.6 135.0h0M197.6 131.9h0M208.3 130.6h0M219.9 164.4h0M315.0 356.0h0M321.6 357.1h0" stroke="#7350d2"/><path d="M199.4 53.7h0M207.3 91.5h0M189.5 128.7h0M191.0 128.9h0M198.0 140.8h0M240.2 357.5h0M229.8 621.8h0" stroke="#6857d8"/><path d="M202.6 58.1h0M205.9 88.1h0M209.0 93.3h0M198.9 126.1h0M207.2 133.2h0M198.2 136.8h0M203.7 280.7h0M210.3 282.9h0M222.1 431.0h0M227.4 621.4h0" stroke="#0079f3"/><path d="M206.1 56.2h0" stroke="#0074f0"/><path d="M215.7 57.5h0M217.3 56.5h0M199.4 104.8h0M246.4 730.4h0" stroke="#e9007c"/><path d="M221.9 57.5h0M228.5 57.5h0M229.8 57.5h0M233.1 56.5h0M236.2 57.5h0M237.8 56.5h0M238.3 57.5h0M241.0 56.5h0M243.0 57.5h0M247.4 56.6h0M249.3 57.4h0M250.6 57.4h0M263.4 57.0h0M265.9 57.0h0M269.7 57.0h0M272.2 57.0h0M287.2 57.0h0M290.9 57.0h0M296.9 57.4h0M306.8 56.2h0M307.1 57.8h0M308.5 56.1h0M311.4 57.9h0M314.5 57.7h0M318.1 56.4h0M322.9 57.4h0M331.9 57.0h0M335.7 57.0h0M344.4 57.0h0M346.9 57.0h0M348.2 57.0h0M370.7 57.0h0M374.4 57.0h0M378.2 57.0h0M380.7 57.0h0M227.0 93.5h0M239.9 95.2h0M243.0 95.3h0M253.7 93.3h0M254.2 95.6h0M255.3 93.3h0M260.6 95.5h0M262.1 93.5h0M263.9 93.5h0M265.5 95.4h0M268.5 95.3h0M271.8 95.2h0M273.5 93.7h0M274.8 95.1h0M278.0 93.9h0M278.3 95.0h0M279.3 93.9h0M288.9 94.5h0M308.9 94.5h0M313.9 94.5h0M321.4 94.5h0M326.4 94.5h0M340.1 94.5h0M341.4 94.5h0M346.4 94.5h0M348.9 94.5h0M355.1 94.5h0M357.6 94.5h0M363.9 94.5h0M382.6 94.5h0M386.4 94.5h0M388.9 94.5h0M395.1 94.5h0M400.1 94.5h0M406.4 94.5h0M410.1 94.5h0M418.9 94.5h0M421.4 94.5h0M426.4 94.5h0M431.4 94.5h0M456.4 94.5h0M458.9 94.5h0M460.1 94.5h0M462.6 94.5h0M463.9 94.5h0M473.9 94.5h0M486.4 94.5h0M495.1 94.5h0M498.9 94.5h0M501.4 94.5h0M512.6 94.5h0M517.6 94.5h0M522.6 94.5h0M231.1 170.0h0M242.3 168.8h0M245.8 168.8h0M245.4 169.9h0M247.5 168.8h0M253.8 168.8h0M253.4 169.9h0M258.4 169.9h0M263.4 168.8h0M263.3 169.9h0M269.4 169.9h0M274.4 169.9h0M280.8 168.8h0M283.8 168.8h0M284.3 169.9h0M289.1 168.8h0M293.5 168.8h0M298.4 168.8h0M300.1 168.8h0M307.7 169.9h0M315.7 168.9h0M319.3 169.8h0M327.2 169.8h0M329.1 168.9h0M332.2 169.8h0M345.1 168.9h0M344.7 169.8h0M346.7 168.9h0M346.7 169.8h0M351.1 168.9h0M355.9 169.8h0M359.2 168.9h0M361.1 169.8h0M363.8 168.9h0M367.3 169.8h0M381.4 168.9h0M381.5 169.8h0M384.9 168.9h0M386.3 169.8h0M389.5 168.9h0M393.0 169.0h0M392.6 169.7h0M395.9 169.0h0M397.5 169.0h0M397.9 169.7h0M401.0 169.0h0M401.0 169.7h0M402.3 169.0h0M405.3 169.7h0M413.9 169.0h0M415.1 169.0h0M416.5 169.7h0M418.5 169.0h0M433.4 169.4h0M437.1 169.4h0M439.6 169.4h0M444.6 169.4h0M447.1 169.4h0M453.4 169.4h0M455.9 169.4h0M457.1 169.4h0M458.4 169.4h0M462.1 169.4h0M221.6 245.5h0M224.9 250.6h0M245.7 245.3h0M246.8 245.4h0M248.6 243.1h0M255.1 244.7h0M256.5 243.8h0M258.0 243.8h0M264.4 243.8h0M264.4 244.7h0M266.4 243.8h0M266.2 244.7h0M267.6 243.8h0M272.7 243.8h0M272.7 244.7h0M274.1 243.8h0M279.0 244.7h0M280.8 244.7h0M287.4 244.7h0M290.6 244.7h0M298.3 243.8h0M301.5 243.8h0M301.5 244.7h0M306.3 244.7h0M309.7 244.7h0M311.3 243.8h0M312.5 243.8h0M323.6 243.8h0M325.6 244.7h0M335.2 243.8h0M338.0 244.7h0M344.9 243.9h0M344.6 244.6h0M346.4 243.9h0M347.6 243.9h0M350.9 243.9h0M357.7 243.9h0M368.8 244.6h0M370.3 243.9h0M370.5 244.6h0M375.4 244.6h0M376.9 244.6h0M384.7 244.2h0M386.0 244.2h0M388.5 244.2h0M389.7 244.2h0M391.0 244.2h0M392.2 244.2h0M394.7 244.2h0M399.7 244.2h0M401.0 244.2h0M403.5 244.2h0M406.0 244.2h0M418.5 244.2h0M419.7 244.2h0M421.0 244.2h0M422.2 244.2h0M423.5 244.2h0M427.2 244.2h0M232.6 282.5h0M235.9 280.9h0M239.2 280.9h0M240.3 280.9h0M243.8 280.9h0M246.7 282.4h0M250.5 281.0h0M251.6 282.4h0M261.3 282.4h0M267.7 281.0h0M272.9 282.4h0M275.6 282.4h0M277.3 281.0h0M280.7 282.3h0M283.8 282.3h0M285.3 281.1h0M290.3 281.1h0M294.8 281.1h0M294.8 282.3h0M298.5 282.3h0M304.5 282.3h0M307.7 281.1h0M309.3 281.1h0M317.2 282.2h0M319.0 282.2h0M320.3 282.2h0M323.9 281.2h0M331.6 281.2h0M334.9 281.2h0M336.5 282.2h0M337.9 282.2h0M339.7 281.2h0M339.8 282.2h0M345.9 282.1h0M349.6 281.3h0M352.4 282.1h0M355.6 281.3h0M357.7 281.3h0M357.5 282.1h0M362.4 281.3h0M363.5 281.3h0M363.5 282.1h0M365.1 281.3h0M367.2 281.3h0M373.1 282.1h0M374.9 282.1h0M376.5 281.3h0M381.9 281.7h0M384.4 281.7h0M386.9 281.7h0M200.5 319.2h0M201.9 318.4h0M203.0 318.4h0M203.6 319.9h0M208.3 318.4h0M213.2 318.3h0M214.9 318.3h0M216.0 318.3h0M219.4 316.6h0M219.5 319.2h0M219.5 321.7h0M221.3 316.8h0M220.8 321.5h0M222.3 320.1h0M223.9 322.1h0M226.1 311.9h0M226.0 313.8h0M227.2 311.9h0M227.4 314.2h0M227.4 317.8h0M227.3 324.2h0M227.4 326.5h0M229.1 316.9h0M228.7 319.2h0M233.9 318.5h0M233.5 319.8h0M235.6 319.8h0M238.2 319.8h0M243.4 318.6h0M243.3 319.7h0M246.2 318.6h0M280.1 319.9h0M281.4 318.5h0M283.0 319.8h0M284.8 318.6h0M291.5 318.8h0M223.4 306.9h0M225.6 306.9h0M223.6 313.0h0M225.5 313.0h0M223.4 319.2h0M225.5 323.3h0M223.5 325.3h0M225.5 327.4h0M225.4 331.5h0M293.9 394.7h0M297.6 394.7h0M300.9 394.7h0M301.9 393.4h0M302.3 394.7h0M307.1 394.6h0M308.5 393.5h0M314.6 393.5h0M319.9 394.6h0M321.5 393.5h0M327.6 393.5h0M332.6 394.6h0M337.3 394.6h0M339.0 393.5h0M341.9 393.6h0M343.8 393.6h0M345.6 393.6h0M350.4 394.5h0M352.0 393.6h0M358.4 393.6h0M366.5 393.6h0M365.9 394.5h0M367.6 394.5h0M369.1 393.6h0M369.6 394.5h0M375.6 394.5h0M377.5 394.4h0M380.7 393.7h0M382.2 394.4h0M383.8 394.4h0M393.6 393.7h0M397.5 394.1h0M398.7 394.1h0M240.5 543.2h0M245.4 543.2h0M247.1 544.5h0M249.9 543.2h0M261.2 543.2h0M261.5 544.5h0M264.8 543.2h0M268.1 544.5h0M269.2 544.5h0M279.2 544.4h0M285.7 543.3h0M285.1 544.4h0M288.5 544.4h0M290.5 544.4h0M291.7 544.4h0M294.8 543.3h0M294.8 544.4h0M298.5 544.4h0M199.2 580.8h0M201.3 581.9h0M202.9 581.9h0M204.3 580.7h0M207.3 581.9h0M210.8 582.0h0M213.5 582.0h0M215.5 582.0h0M217.1 582.0h0M218.8 582.1h0M223.7 582.5h0M227.9 576.0h0M228.4 582.4h0M228.0 584.4h0M228.4 586.8h0M228.0 588.8h0M229.5 575.6h0M229.6 580.5h0M229.9 588.9h0M231.3 576.1h0M231.2 580.1h0M231.6 582.3h0M233.3 573.7h0M233.3 580.2h0M245.2 618.0h0M244.7 619.5h0M257.9 619.4h0M208.8 692.8h0M210.6 694.5h0M213.7 694.6h0M215.6 694.6h0M216.9 694.7h0M223.7 692.5h0M225.1 694.9h0M229.8 691.5h0M229.6 693.7h0M231.3 699.0h0M233.4 695.9h0M283.7 693.1h0M285.2 694.1h0M295.0 694.1h0M297.8 693.2h0M301.5 693.2h0M304.3 693.2h0M304.1 694.1h0M306.3 693.2h0M307.6 694.1h0M312.4 693.3h0M318.8 694.0h0M320.2 694.0h0M328.1 693.7h0M334.4 693.7h0M230.6 683.4h0M232.3 687.5h0M232.1 693.7h0M230.7 697.8h0M232.5 697.8h0M230.8 701.9h0M230.8 703.9h0M232.2 703.9h0M226.0 731.1h0M227.1 731.8h0M228.5 731.1h0M230.3 731.1h0M232.2 728.8h0M232.0 731.1h0M235.5 730.5h0M236.8 730.5h0M231.0 718.3h0M231.1 722.2h0M231.0 726.2h0M230.9 740.0h0M231.0 741.9h0M236.4 769.8h0M240.8 767.8h0M244.2 769.3h0M250.5 767.8h0M257.0 769.3h0M265.3 767.9h0M266.9 767.9h0M274.8 769.2h0M278.1 767.9h0M287.6 768.0h0M290.5 768.0h0M298.9 769.1h0M300.5 769.1h0M301.6 768.0h0M303.3 768.0h0M316.3 768.1h0M322.9 769.0h0M332.3 768.9h0M340.3 768.6h0M344.0 768.6h0M349.0 768.6h0" stroke="#0088fa"/><path d="M196.3 45.9h0M194.2 127.8h0M195.7 136.8h0M233.3 207.6h0" stroke="#764ed0"/><path d="M198.1 45.9h0M194.8 96.4h0M215.7 97.6h0M267.4 319.2h0M333.0 357.1h0M238.5 471.1h0M247.5 580.5h0M247.5 582.1h0" stroke="#0073ef"/><path d="M198.1 47.9h0M219.8 174.3h0M217.9 280.0h0M323.4 357.1h0M236.1 505.1h0M246.1 580.4h0" stroke="#306ae9"/><path d="M198.1 49.9h0M202.6 96.7h0M194.3 137.7h0M196.1 130.0h0M226.2 167.1h0M215.9 166.4h0M221.7 232.9h0M223.1 286.1h0M226.2 276.9h0M375.3 356.6h0M228.4 422.5h0M235.6 545.9h0" stroke="#794cce"/><path d="M196.3 54.0h0M204.3 98.3h0M209.4 88.7h0M204.0 128.8h0M203.5 131.1h0M218.4 255.3h0M219.7 251.6h0M238.8 357.4h0M350.8 357.0h0M230.3 431.5h0M230.8 630.0h0" stroke="#6c54d6"/><path d="M198.4 54.0h0M219.7 176.3h0M215.8 178.3h0M294.5 206.3h0M264.1 319.2h0M296.2 469.4h0M242.3 582.3h0" stroke="#4066e6"/><path d="M196.5 64.1h0M215.1 167.6h0M224.9 166.3h0M305.7 357.2h0M315.1 357.2h0M366.6 356.6h0" stroke="#266cea"/><path d="M198.1 64.1h0M326.7 357.1h0M220.0 544.6h0M222.9 542.1h0M266.6 582.1h0M268.1 582.1h0" stroke="#0071ee"/><path d="M185.0 95.1h0M193.5 95.7h0M196.7 100.7h0M196.3 102.8h0M226.4 288.5h0M297.6 356.0h0M313.8 356.0h0" stroke="#3968e7"/><path d="M186.7 92.7h0M229.6 540.8h0M230.9 556.8h0M233.9 541.9h0" stroke="#e10084"/><path d="M190.2 96.8h0M251.0 429.2h0M252.6 429.5h0M237.9 693.7h0" stroke="#e50080"/><path d="M191.3 88.2h0M223.5 171.5h0M224.8 170.2h0M212.7 206.3h0M214.1 207.5h0M280.5 357.3h0M226.4 657.2h0" stroke="#8542c5"/><path d="M191.5 100.7h0M299.6 132.9h0M221.1 283.9h0M223.1 282.7h0M230.2 470.6h0M249.0 692.4h0" stroke="#ff0056"/><path d="M193.5 99.6h0M192.9 102.0h0M220.9 217.5h0M284.9 468.4h0M320.0 468.6h0M231.4 503.1h0M233.4 509.7h0M230.8 765.6h0" stroke="#9233b9"/><path d="M195.1 92.3h0M239.6 570.0h0M243.4 619.5h0M230.8 663.3h0M245.5 692.1h0M239.9 730.5h0" stroke="#fe005c"/><path d="M196.4 88.5h0M197.7 89.6h0M258.5 133.7h0M219.1 207.6h0M230.1 393.3h0M231.2 431.5h0M237.7 505.6h0M233.4 513.5h0M231.3 532.9h0M232.6 541.6h0M237.9 582.5h0M244.2 582.2h0M239.3 584.4h0M230.8 755.8h0M230.7 781.4h0" stroke="#8d39be"/><path d="M198.2 93.4h0M216.7 280.8h0M363.6 357.0h0M282.8 468.4h0M257.0 580.5h0" stroke="#006fed"/><path d="M199.8 92.6h0M202.7 103.3h0M230.9 554.4h0" stroke="#e7007e"/><path d="M199.4 106.8h0M227.1 205.6h0M231.6 665.3h0" stroke="#f00074"/><path d="M201.4 85.7h0M202.8 105.6h0M248.1 206.1h0M221.7 288.5h0M226.3 284.1h0M237.9 580.1h0" stroke="#8244c7"/><path d="M201.5 88.2h0M176.0 131.9h0M179.7 131.5h0M181.5 132.4h0M208.7 133.2h0M216.3 133.0h0M214.9 165.5h0M216.9 169.4h0M241.4 207.5h0M210.1 280.5h0M214.9 283.7h0M225.1 270.7h0M304.2 357.2h0M372.8 356.6h0M229.4 532.7h0M242.7 580.3h0M221.8 769.5h0" stroke="#8047c9"/><path d="M202.5 92.2h0M222.1 194.1h0" stroke="#eb007a"/><path d="M204.1 88.2h0M209.0 97.7h0M219.7 160.4h0M293.0 207.3h0M238.3 355.8h0M218.0 543.2h0" stroke="#5b5ddd"/><path d="M211.0 90.3h0M215.4 91.3h0M225.7 617.4h0" stroke="#0076f1"/><path d="M216.9 96.8h0" stroke="#5261e1"/><path d="M187.6 130.9h0M195.7 138.8h0M216.9 255.1h0M218.4 242.3h0M226.1 243.1h0M226.0 387.0h0M228.4 444.5h0M232.2 779.4h0" stroke="#0081f7"/><path d="M192.4 129.8h0M195.8 127.0h0M195.7 282.4h0M241.7 467.5h0M230.9 614.4h0M218.4 767.6h0" stroke="#007bf4"/><path d="M200.3 130.9h0M205.6 136.6h0M219.6 249.6h0M224.9 239.7h0M227.0 432.9h0M212.1 543.9h0M213.2 543.4h0M214.8 543.3h0" stroke="#007ff7"/><path d="M203.9 135.1h0M195.7 125.0h0M220.1 253.5h0M326.8 356.1h0M327.9 356.1h0M223.0 543.9h0M230.5 623.9h0M230.5 628.0h0" stroke="#6f52d4"/><path d="M210.4 130.7h0M231.7 433.2h0M281.3 468.4h0M226.4 507.1h0M231.6 509.7h0M254.0 580.5h0M238.3 588.5h0" stroke="#8a3cc0"/><path d="M227.7 131.0h0M274.3 129.8h0M236.7 618.8h0M231.8 643.1h0M231.9 667.3h0" stroke="#962db3"/><path d="M231.1 132.8h0M220.8 196.1h0M237.1 357.4h0M319.7 469.3h0M324.4 469.0h0M222.0 505.4h0M228.9 507.4h0M231.2 657.6h0M232.3 775.4h0" stroke="#9829b1"/><path d="M232.6 132.8h0" stroke="#b00fa5"/><path d="M233.9 132.9h0M222.4 205.9h0M236.1 431.5h0" stroke="#b30aa3"/><path d="M239.3 132.9h0M243.5 207.5h0" stroke="#b604a2"/><path d="M242.1 130.8h0M245.3 130.7h0M254.8 131.9h0" stroke="#ad13a6"/><path d="M243.7 130.8h0M277.4 131.9h0M278.7 134.0h0M283.2 357.3h0M238.2 582.3h0M227.7 623.5h0" stroke="#d9008c"/><path d="M250.3 130.6h0M262.6 355.8h0M232.4 556.1h0M234.1 550.1h0M230.2 623.2h0" stroke="#dd0088"/><path d="M250.0 133.2h0" stroke="#aa17a7"/><path d="M251.7 130.6h0" stroke="#a01fab"/><path d="M256.5 130.2h0M266.4 129.7h0M222.1 200.0h0M235.4 618.0h0" stroke="#f6006c"/><path d="M260.1 133.9h0M279.2 131.9h0M220.2 165.6h0M223.1 284.7h0M234.3 543.9h0M237.0 620.6h0M238.7 618.0h0M230.6 625.9h0M230.9 775.4h0" stroke="#db008a"/><path d="M266.0 134.1h0M230.6 653.2h0" stroke="#f4006e"/><path d="M274.0 134.0h0M218.2 285.6h0M249.7 319.7h0M254.8 318.4h0M278.7 318.4h0M244.8 394.8h0M260.5 394.8h0M243.0 695.5h0" stroke="#fc0061"/><path d="M288.5 133.5h0" stroke="#df0086"/><path d="M296.4 133.0h0" stroke="#a31daa"/><path d="M298.5 133.0h0M302.8 132.8h0" stroke="#ff0053"/><path d="M309.4 131.3h0M309.3 132.5h0M310.8 131.3h0M317.1 131.3h0M322.4 131.3h0M325.2 131.3h0M325.1 132.5h0M331.7 131.3h0M331.9 132.5h0M333.5 131.3h0M335.1 131.3h0M336.5 131.4h0M340.0 132.4h0M342.8 131.4h0M347.5 131.4h0M349.2 131.4h0M351.0 132.4h0M353.9 132.4h0M357.7 131.4h0M357.3 132.4h0M364.1 132.4h0M368.5 131.4h0M373.3 131.4h0M374.8 131.4h0M379.7 132.4h0M386.3 131.4h0M391.2 131.5h0M391.2 132.3h0M392.8 132.3h0M397.5 131.5h0M405.4 131.5h0M405.3 132.3h0M410.5 131.5h0M423.3 131.5h0M423.1 132.3h0M424.9 132.3h0M426.5 131.5h0M426.1 132.3h0M432.7 132.3h0M435.8 131.5h0M437.6 132.3h0M440.8 132.3h0M442.4 131.5h0M442.0 132.3h0M452.9 131.9h0M459.2 131.9h0M462.9 131.9h0M469.2 131.9h0M470.4 131.9h0M229.2 243.7h0M232.6 243.7h0M234.2 243.6h0M235.9 243.6h0M239.3 243.5h0M238.8 245.0h0M246.2 393.3h0M246.0 394.8h0M251.2 394.8h0M252.8 393.3h0M258.6 394.8h0M283.2 393.4h0M286.0 393.4h0M288.0 393.4h0M289.2 393.4h0M252.8 468.4h0M256.3 469.6h0M257.4 468.4h0M257.4 469.6h0M259.3 469.6h0M260.5 468.4h0M264.1 468.4h0M267.2 468.4h0M268.6 468.4h0M271.9 468.4h0M273.7 468.4h0M273.4 469.5h0M241.0 505.8h0M245.6 507.0h0M250.7 507.0h0M258.4 507.0h0M261.8 507.0h0M264.8 505.8h0M266.8 505.8h0M266.6 507.0h0M270.1 505.8h0M270.0 507.0h0M273.4 505.8h0M273.0 507.0h0M276.0 505.8h0M277.9 505.8h0M278.1 507.0h0M284.5 507.0h0M291.1 505.8h0M294.1 505.8h0M300.4 507.0h0M302.2 505.8h0M303.8 505.8h0M305.0 505.8h0M305.1 507.0h0M308.6 505.8h0M309.7 505.8h0M311.7 507.0h0M313.4 505.8h0M316.4 507.0h0M317.6 507.0h0M319.6 505.8h0M319.8 507.0h0M322.8 505.8h0M322.4 507.0h0M325.8 505.8h0M327.3 505.8h0M327.3 507.0h0M332.5 505.8h0M340.3 507.0h0M345.0 507.0h0M348.0 505.8h0M351.4 507.0h0M353.2 505.8h0M356.4 505.8h0M356.3 507.0h0M357.7 506.9h0M362.8 506.9h0M372.6 505.9h0M374.1 506.9h0M378.5 506.9h0M381.7 506.9h0M383.4 505.9h0M383.6 506.9h0M388.5 506.9h0M389.6 505.9h0M393.3 505.9h0M392.9 506.9h0M396.0 506.9h0M401.1 505.9h0M404.5 505.9h0M405.7 506.9h0M410.7 505.9h0M412.4 506.9h0M419.0 506.9h0M420.4 505.9h0M433.0 505.9h0M436.7 506.9h0M440.9 505.9h0M442.7 505.9h0M449.3 505.9h0M452.1 505.9h0M455.5 506.9h0M457.2 506.9h0M460.5 506.9h0M463.6 506.9h0M466.4 506.9h0M468.5 505.9h0M470.3 505.9h0M473.0 506.9h0M270.7 618.1h0M273.8 618.1h0M276.7 618.1h0M278.3 619.4h0M283.1 619.4h0M286.5 618.1h0M289.4 619.4h0M295.8 618.1h0M297.7 618.1h0M304.0 618.1h0M303.9 619.4h0M308.7 618.1h0M312.1 618.1h0" stroke="#ff0051"/><path d="M224.6 172.4h0M286.2 357.3h0M241.5 458.3h0" stroke="#cd0095"/><path d="M217.4 204.5h0M235.0 621.6h0M230.7 645.1h0" stroke="#f30070"/><path d="M217.7 206.8h0M249.7 207.5h0M254.4 207.5h0M213.4 283.0h0M225.0 284.7h0M231.7 393.3h0M297.5 469.4h0M231.3 550.2h0M258.4 582.1h0M263.1 580.5h0M234.0 615.1h0M210.4 769.4h0" stroke="#883fc2"/><path d="M224.2 209.3h0M239.4 693.7h0" stroke="#ee0076"/><path d="M236.9 207.6h0M234.7 433.5h0M233.0 505.5h0M229.0 513.5h0" stroke="#c5009a"/><path d="M273.3 206.2h0M190.7 281.2h0M190.9 282.2h0M222.0 393.2h0M222.1 432.0h0M230.5 616.5h0M229.9 611.6h0M229.7 625.9h0M253.6 694.5h0M251.3 731.8h0" stroke="#0077f2"/><path d="M275.2 207.4h0M222.9 272.7h0M264.3 317.2h0M246.2 357.7h0M243.1 467.9h0M240.2 460.2h0" stroke="#186deb"/><path d="M222.0 198.0h0M235.1 393.3h0M274.8 394.7h0" stroke="#f7006a"/><path d="M220.6 203.9h0" stroke="#bc009f"/><path d="M222.2 205.8h0" stroke="#f10072"/><path d="M221.9 211.7h0M325.2 356.1h0M291.5 468.4h0M228.8 505.4h0" stroke="#bf009d"/><path d="M220.6 219.5h0M275.2 468.4h0M287.8 468.4h0M304.1 468.5h0" stroke="#8f36bb"/><path d="M214.9 242.2h0M221.7 255.5h0M225.0 237.9h0" stroke="#0089fa"/><path d="M217.0 244.2h0M220.2 235.2h0" stroke="#0086fa"/><path d="M221.5 237.3h0M223.2 250.4h0M240.5 619.5h0" stroke="#0085f9"/><path d="M256.0 318.2h0M271.9 318.0h0M276.8 320.0h0M267.4 355.8h0M244.7 429.0h0M232.3 543.9h0" stroke="#fb0063"/><path d="M262.4 320.9h0M242.4 691.8h0" stroke="#fd005f"/><path d="M248.1 357.8h0M227.9 541.9h0M228.1 550.2h0" stroke="#575fdf"/><path d="M251.5 355.3h0" stroke="#4664e4"/><path d="M252.6 358.0h0" stroke="#ff0058"/><path d="M254.5 356.6h0" stroke="#ff005a"/><path d="M345.7 357.0h0M367.8 356.6h0M313.2 468.6h0M313.3 469.3h0" stroke="#c2009c"/><path d="M370.3 356.6h0" stroke="#c70098"/><path d="M221.9 394.9h0M222.7 403.1h0M244.0 693.7h0" stroke="#0082f8"/><path d="M220.7 431.5h0" stroke="#f80067"/><path d="M250.6 433.8h0M229.6 551.0h0M248.9 580.5h0M232.9 770.0h0" stroke="#fa0065"/><path d="M253.9 431.5h0M247.7 730.4h0" stroke="#ec0078"/><path d="M254.1 433.3h0M236.1 543.9h0" stroke="#e30082"/><path d="M299.4 468.5h0M234.6 509.7h0M228.6 499.3h0" stroke="#9430b6"/><path d="M233.4 519.5h0" stroke="#ca0097"/><path d="M221.4 544.9h0M224.4 543.0h0" stroke="#9d22ac"/><path d="M389.5 57.0h0M397.0 57.0h0M533.4 94.5h0M538.0 94.5h0M541.5 94.5h0M549.7 94.5h0M553.8 94.5h0M569.1 94.5h0M476.6 169.4h0M437.5 244.2h0M302.0 319.2h0M358.0 768.6h0M364.8 768.6h0M369.0 768.6h0M376.7 768.6h0" stroke="#008bfb"/><path d="M216.2 57.0h0" stroke="#e9007c"/><path d="M189.0 97.5h0M195.0 103.5h0M199.0 101.5h0M275.6 281.7h0M293.5 543.9h0" stroke="#fe005c"/><path d="M192.0 100.5h0M197.5 106.5h0M478.0 131.9h0M482.0 131.9h0M504.8 131.9h0M507.5 131.9h0M510.5 131.9h0M514.0 131.9h0M519.0 131.9h0M522.0 131.9h0M525.0 131.9h0M528.0 131.9h0M531.0 131.9h0M534.5 131.9h0M538.5 131.9h0M543.6 131.9h0M491.7 506.4h0" stroke="#ff0051"/><path d="M194.0 98.5h0" stroke="#f80067"/><path d="M191.0 92.5h0" stroke="#f10072"/><path d="M196.0 86.5h0" stroke="#df0086"/><path d="M384.5 356.6h0" stroke="#b900a0"/><path d="M339.0 469.0h0" stroke="#8542c5"/><path d="M343.0 469.0h0" stroke="#764ed0"/><path d="M239.5 506.4h0M272.0 506.4h0" stroke="#0084f9"/><path d="M259.5 693.7h0M262.0 693.7h0M264.5 693.7h0M267.0 693.7h0M269.5 693.7h0M272.0 693.7h0M277.0 693.7h0" stroke="#0088fa"/></g>
<line x1="154.4" y1="806.2" x2="590" y2="806.2" stroke="#333" stroke-width="1.3"/>
<line x1="158.5" y1="806" x2="158.5" y2="810.5" stroke="#333" stroke-width="1.1"/>
<text x="158.48" y="825.70" font-size="13.77" fill="#333" stroke="#333" stroke-width="0.3" text-anchor="middle" textLength="32.78" lengthAdjust="spacingAndGlyphs" font-family="Liberation Sans, sans-serif" >−0.2</text>
<line x1="233.3" y1="806" x2="233.3" y2="810.5" stroke="#333" stroke-width="1.1"/>
<text x="233.30" y="825.70" font-size="13.77" fill="#333" stroke="#333" stroke-width="0.3" text-anchor="middle" textLength="21.47" lengthAdjust="spacingAndGlyphs" font-family="Liberation Sans, sans-serif" >0.0</text>
<line x1="308.1" y1="806" x2="308.1" y2="810.5" stroke="#333" stroke-width="1.1"/>
<text x="308.12" y="825.70" font-size="13.77" fill="#333" stroke="#333" stroke-width="0.3" text-anchor="middle" textLength="21.47" lengthAdjust="spacingAndGlyphs" font-family="Liberation Sans, sans-serif" >0.2</text>
<line x1="382.9" y1="806" x2="382.9" y2="810.5" stroke="#333" stroke-width="1.1"/>
<text x="382.94" y="825.70" font-size="13.77" fill="#333" stroke="#333" stroke-width="0.3" text-anchor="middle" textLength="21.47" lengthAdjust="spacingAndGlyphs" font-family="Liberation Sans, sans-serif" >0.4</text>
<line x1="457.8" y1="806" x2="457.8" y2="810.5" stroke="#333" stroke-width="1.1"/>
<text x="457.76" y="825.70" font-size="13.77" fill="#333" stroke="#333" stroke-width="0.3" text-anchor="middle" textLength="21.47" lengthAdjust="spacingAndGlyphs" font-family="Liberation Sans, sans-serif" >0.6</text>
<line x1="532.6" y1="806" x2="532.6" y2="810.5" stroke="#333" stroke-width="1.1"/>
<text x="532.58" y="825.70" font-size="13.77" fill="#333" stroke="#333" stroke-width="0.3" text-anchor="middle" textLength="21.47" lengthAdjust="spacingAndGlyphs" font-family="Liberation Sans, sans-serif" >0.8</text>
<text x="371.80" y="846.00" font-size="16.57" fill="#000" stroke="#000" stroke-width="0.1" text-anchor="middle" textLength="308.70" lengthAdjust="spacingAndGlyphs" font-family="Liberation Sans, sans-serif" >SHAP value (impact on model output)</text>
<text x="125.00" y="62.90" font-size="16.32" fill="#333" stroke="#333" stroke-width="0.3" text-anchor="end" textLength="81.85" lengthAdjust="spacingAndGlyphs" font-family="Liberation Sans, sans-serif" >HRV_TINN</text>
<text x="125.00" y="100.35" font-size="16.32" fill="#333" stroke="#333" stroke-width="0.3" text-anchor="end" textLength="69.94" lengthAdjust="spacingAndGlyphs" font-family="Liberation Sans, sans-serif" >HRV_HTI</text>
<text x="125.00" y="137.80" font-size="16.32" fill="#333" stroke="#333" stroke-width="0.3" text-anchor="end" textLength="78.15" lengthAdjust="spacingAndGlyphs" font-family="Liberation Sans, sans-serif" >HRV_IALS</text>
<text x="125.00" y="175.25" font-size="16.32" fill="#333" stroke="#333" stroke-width="0.3" text-anchor="end" textLength="112.11" lengthAdjust="spacingAndGlyphs" font-family="Liberation Sans, sans-serif" >HRV_Prc20NN</text>
<text x="125.00" y="212.70" font-size="16.32" fill="#333" stroke="#333" stroke-width="0.3" text-anchor="end" textLength="95.75" lengthAdjust="spacingAndGlyphs" font-family="Liberation Sans, sans-serif" >HRV_MinNN</text>
<text x="125.00" y="250.15" font-size="16.32" fill="#333" stroke="#333" stroke-width="0.3" text-anchor="end" textLength="95.79" lengthAdjust="spacingAndGlyphs" font-family="Liberation Sans, sans-serif" >HRV_IQRNN</text>
<text x="125.00" y="287.60" font-size="16.32" fill="#333" stroke="#333" stroke-width="0.3" text-anchor="end" textLength="125.55" lengthAdjust="spacingAndGlyphs" font-family="Liberation Sans, sans-serif" >HRV_MedianNN</text>
<text x="125.00" y="325.05" font-size="16.32" fill="#333" stroke="#333" stroke-width="0.3" text-anchor="end" textLength="88.01" lengthAdjust="spacingAndGlyphs" font-family="Liberation Sans, sans-serif" >HRV_CVSD</text>
<text x="125.00" y="362.50" font-size="16.32" fill="#333" stroke="#333" stroke-width="0.3" text-anchor="end" textLength="97.87" lengthAdjust="spacingAndGlyphs" font-family="Liberation Sans, sans-serif" >HRV_pNN50</text>
<text x="125.00" y="399.95" font-size="16.32" fill="#333" stroke="#333" stroke-width="0.3" text-anchor="end" textLength="103.28" lengthAdjust="spacingAndGlyphs" font-family="Liberation Sans, sans-serif" >HRV_MCVNN</text>
<text x="125.00" y="437.40" font-size="16.32" fill="#333" stroke="#333" stroke-width="0.3" text-anchor="end" textLength="73.15" lengthAdjust="spacingAndGlyphs" font-family="Liberation Sans, sans-serif" >HRV_PAS</text>
<text x="125.00" y="474.85" font-size="16.32" fill="#333" stroke="#333" stroke-width="0.3" text-anchor="end" textLength="67.43" lengthAdjust="spacingAndGlyphs" font-family="Liberation Sans, sans-serif" >HRV_PIP</text>
<text x="125.00" y="512.30" font-size="16.32" fill="#333" stroke="#333" stroke-width="0.3" text-anchor="end" textLength="57.79" lengthAdjust="spacingAndGlyphs" font-family="Liberation Sans, sans-serif" >HRV_PI</text>
<text x="125.00" y="549.75" font-size="16.32" fill="#333" stroke="#333" stroke-width="0.3" text-anchor="end" textLength="110.95" lengthAdjust="spacingAndGlyphs" font-family="Liberation Sans, sans-serif" >HRV_MeanNN</text>
<text x="125.00" y="587.20" font-size="16.32" fill="#333" stroke="#333" stroke-width="0.3" text-anchor="end" textLength="97.87" lengthAdjust="spacingAndGlyphs" font-family="Liberation Sans, sans-serif" >HRV_pNN20</text>
<text x="125.00" y="624.65" font-size="16.32" fill="#333" stroke="#333" stroke-width="0.3" text-anchor="end" textLength="112.11" lengthAdjust="spacingAndGlyphs" font-family="Liberation Sans, sans-serif" >HRV_Prc80NN</text>
<text x="125.00" y="662.10" font-size="16.32" fill="#333" stroke="#333" stroke-width="0.3" text-anchor="end" textLength="71.68" lengthAdjust="spacingAndGlyphs" font-family="Liberation Sans, sans-serif" >HRV_LFn</text>
<text x="125.00" y="699.55" font-size="16.32" fill="#333" stroke="#333" stroke-width="0.3" text-anchor="end" textLength="100.97" lengthAdjust="spacingAndGlyphs" font-family="Liberation Sans, sans-serif" >HRV_RMSSD</text>
<text x="125.00" y="737.00" font-size="16.32" fill="#333" stroke="#333" stroke-width="0.3" text-anchor="end" textLength="104.73" lengthAdjust="spacingAndGlyphs" font-family="Liberation Sans, sans-serif" >HRV_SDNNI1</text>
<text x="125.00" y="774.45" font-size="16.32" fill="#333" stroke="#333" stroke-width="0.3" text-anchor="end" textLength="72.48" lengthAdjust="spacingAndGlyphs" font-family="Liberation Sans, sans-serif" >HRV_VLF</text>
<text x="373.90" y="12.10" font-size="15.20" fill="#000" stroke="#000" stroke-width="0.05" text-anchor="middle" textLength="205.44" lengthAdjust="spacingAndGlyphs" font-family="Liberation Sans, sans-serif" >Feature importances (24 h)</text>
<defs><linearGradient id="cb" x1="0" y1="0" x2="0" y2="1"><stop offset="0.000" stop-color="#ff0051"/><stop offset="0.050" stop-color="#fe005c"/><stop offset="0.100" stop-color="#f80067"/><stop offset="0.150" stop-color="#f10072"/><stop offset="0.200" stop-color="#e9007c"/><stop offset="0.250" stop-color="#df0086"/><stop offset="0.300" stop-color="#d40090"/><stop offset="0.350" stop-color="#c70098"/><stop offset="0.400" stop-color="#b900a0"/><stop offset="0.450" stop-color="#aa17a7"/><stop offset="0.500" stop-color="#9d22ac"/><stop offset="0.550" stop-color="#9233b9"/><stop offset="0.600" stop-color="#8542c5"/><stop offset="0.650" stop-color="#764ed0"/><stop offset="0.700" stop-color="#6459da"/><stop offset="0.750" stop-color="#4c63e3"/><stop offset="0.800" stop-color="#266cea"/><stop offset="0.850" stop-color="#0074f0"/><stop offset="0.900" stop-color="#007cf5"/><stop offset="0.950" stop-color="#0084f9"/><stop offset="1.000" stop-color="#008bfb"/></linearGradient></defs>
<rect x="616.7" y="19.8" width="9.6" height="786" fill="url(#cb)"/>
<text x="631.00" y="24.70" font-size="15.10" fill="#333" stroke="#333" stroke-width="0.3" text-anchor="start" textLength="34.02" lengthAdjust="spacingAndGlyphs" font-family="Liberation Sans, sans-serif" >High</text>
<text x="631.20" y="811.40" font-size="15.10" fill="#333" stroke="#333" stroke-width="0.3" text-anchor="start" textLength="29.14" lengthAdjust="spacingAndGlyphs" font-family="Liberation Sans, sans-serif" >Low</text>
<g transform="translate(674.4,410.2) rotate(-90)"><text x="0.00" y="0.00" font-size="16.01" fill="#333" stroke="#333" stroke-width="0.3" text-anchor="middle" textLength="108.70" lengthAdjust="spacingAndGlyphs" font-family="Liberation Sans, sans-serif" >Feature value</text></g>
</svg></body></html>
